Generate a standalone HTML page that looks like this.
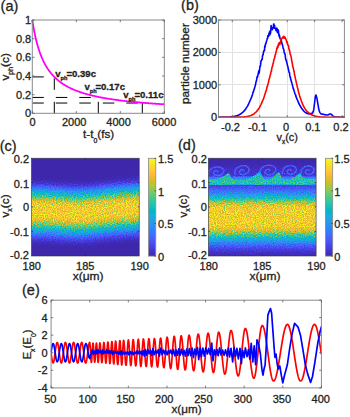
<!DOCTYPE html><html><head><meta charset="utf-8"><style>html,body{margin:0;padding:0;background:#fff;overflow:hidden}svg{display:block;font-family:"Liberation Sans",sans-serif}</style></head><body><svg width="350" height="417" viewBox="0 0 350 417" font-family="Liberation Sans, sans-serif" fill="#231f20"><style>text{stroke:#231f20;stroke-width:0.3px}</style><defs><linearGradient id="gc" gradientUnits="userSpaceOnUse" x1="0" y1="-60" x2="0" y2="60"><stop offset="0.0000" stop-color="#000000"/><stop offset="0.2167" stop-color="#000000"/><stop offset="0.2250" stop-color="#010600"/><stop offset="0.2333" stop-color="#020800"/><stop offset="0.2417" stop-color="#030a00"/><stop offset="0.2500" stop-color="#060f00"/><stop offset="0.2583" stop-color="#091300"/><stop offset="0.2667" stop-color="#0d1700"/><stop offset="0.2750" stop-color="#131c00"/><stop offset="0.2833" stop-color="#1a2000"/><stop offset="0.2917" stop-color="#242600"/><stop offset="0.3000" stop-color="#2e2c00"/><stop offset="0.3083" stop-color="#393100"/><stop offset="0.3167" stop-color="#453600"/><stop offset="0.3250" stop-color="#523a00"/><stop offset="0.3333" stop-color="#5c3e00"/><stop offset="0.3417" stop-color="#664100"/><stop offset="0.3500" stop-color="#704400"/><stop offset="0.3583" stop-color="#7a4700"/><stop offset="0.3667" stop-color="#854a00"/><stop offset="0.3750" stop-color="#8f4d00"/><stop offset="0.3833" stop-color="#995000"/><stop offset="0.3917" stop-color="#a35200"/><stop offset="0.4000" stop-color="#ad5500"/><stop offset="0.4083" stop-color="#b85700"/><stop offset="0.4167" stop-color="#c25900"/><stop offset="0.4250" stop-color="#cc5c00"/><stop offset="0.4333" stop-color="#d05d00"/><stop offset="0.4417" stop-color="#d45e00"/><stop offset="0.4500" stop-color="#d95f00"/><stop offset="0.4583" stop-color="#d95f00"/><stop offset="0.4667" stop-color="#da5f00"/><stop offset="0.4833" stop-color="#da5f00"/><stop offset="0.4917" stop-color="#db5f00"/><stop offset="0.5083" stop-color="#db5f00"/><stop offset="0.5167" stop-color="#da5f00"/><stop offset="0.5333" stop-color="#da5f00"/><stop offset="0.5417" stop-color="#d95f00"/><stop offset="0.5500" stop-color="#d95f00"/><stop offset="0.5583" stop-color="#d45e00"/><stop offset="0.5667" stop-color="#d05d00"/><stop offset="0.5750" stop-color="#cc5c00"/><stop offset="0.5833" stop-color="#c45a00"/><stop offset="0.5917" stop-color="#bc5800"/><stop offset="0.6000" stop-color="#b25600"/><stop offset="0.6083" stop-color="#a85300"/><stop offset="0.6167" stop-color="#9e5100"/><stop offset="0.6250" stop-color="#944e00"/><stop offset="0.6333" stop-color="#8a4b00"/><stop offset="0.6417" stop-color="#804900"/><stop offset="0.6500" stop-color="#754600"/><stop offset="0.6583" stop-color="#6b4300"/><stop offset="0.6667" stop-color="#613f00"/><stop offset="0.6750" stop-color="#573c00"/><stop offset="0.6833" stop-color="#4c3800"/><stop offset="0.6917" stop-color="#423400"/><stop offset="0.7000" stop-color="#383000"/><stop offset="0.7083" stop-color="#2f2c00"/><stop offset="0.7167" stop-color="#262800"/><stop offset="0.7250" stop-color="#1e2300"/><stop offset="0.7333" stop-color="#171f00"/><stop offset="0.7417" stop-color="#121b00"/><stop offset="0.7500" stop-color="#0d1700"/><stop offset="0.7583" stop-color="#091300"/><stop offset="0.7667" stop-color="#060f00"/><stop offset="0.7750" stop-color="#030a00"/><stop offset="0.7833" stop-color="#020800"/><stop offset="0.7917" stop-color="#010600"/><stop offset="0.8000" stop-color="#000000"/><stop offset="1.0000" stop-color="#000000"/></linearGradient><clipPath id="clipc"><rect x="31.5" y="158.2" width="107.7" height="97.8"/></clipPath><filter id="pnc" filterUnits="userSpaceOnUse" x="31" y="158" width="109" height="99" color-interpolation-filters="sRGB"><feTurbulence type="fractalNoise" baseFrequency="0.9" numOctaves="2" seed="3" result="t"/><feColorMatrix in="t" type="matrix" values="1 0 0 0 0 1 0 0 0 0 1 0 0 0 0 0 0 0 0 1" result="n"/><feColorMatrix in="SourceGraphic" type="matrix" values="1 0 0 0 0 1 0 0 0 0 1 0 0 0 0 0 0 0 0 1" result="a"/><feColorMatrix in="SourceGraphic" type="matrix" values="0 1 0 0 0 0 1 0 0 0 0 1 0 0 0 0 0 0 0 1" result="m"/><feComposite in="m" in2="n" operator="arithmetic" k1="2.0000" k2="-1.0000" k3="0" k4="0.5" result="na"/><feComposite in="a" in2="na" operator="arithmetic" k1="0" k2="1" k3="1" k4="-0.5" result="v"/><feComponentTransfer in="v" result="c"><feFuncR type="table" tableValues="0.2422 0.2504 0.2578 0.2647 0.2706 0.2751 0.2783 0.2803 0.2813 0.2810 0.2795 0.2760 0.2699 0.2602 0.2440 0.2206 0.1963 0.1834 0.1786 0.1764 0.1687 0.1540 0.1460 0.1380 0.1248 0.1113 0.0952 0.0689 0.0297 0.0036 0.0067 0.0433 0.0964 0.1408 0.1717 0.1938 0.2161 0.2470 0.2906 0.3406 0.3909 0.4456 0.5044 0.5616 0.6174 0.6720 0.7242 0.7738 0.8203 0.8634 0.9035 0.9393 0.9728 0.9956 0.9970 0.9952 0.9892 0.9786 0.9676 0.9610 0.9597 0.9628 0.9691 0.9769"/><feFuncG type="table" tableValues="0.1504 0.1650 0.1818 0.1978 0.2147 0.2342 0.2559 0.2782 0.3006 0.3228 0.3447 0.3667 0.3892 0.4123 0.4358 0.4603 0.4847 0.5074 0.5289 0.5499 0.5703 0.5902 0.6091 0.6276 0.6459 0.6635 0.6798 0.6948 0.7082 0.7203 0.7312 0.7411 0.7500 0.7584 0.7670 0.7758 0.7843 0.7918 0.7973 0.8008 0.8029 0.8024 0.7993 0.7942 0.7876 0.7793 0.7698 0.7598 0.7498 0.7406 0.7330 0.7288 0.7298 0.7434 0.7659 0.7893 0.8136 0.8386 0.8639 0.8890 0.9135 0.9373 0.9606 0.9839"/><feFuncB type="table" tableValues="0.6603 0.7076 0.7511 0.7952 0.8364 0.8710 0.8991 0.9221 0.9414 0.9579 0.9717 0.9829 0.9906 0.9952 0.9988 0.9973 0.9892 0.9798 0.9682 0.9520 0.9359 0.9218 0.9079 0.8973 0.8883 0.8763 0.8598 0.8394 0.8163 0.7917 0.7660 0.7394 0.7120 0.6842 0.6554 0.6251 0.5923 0.5567 0.5188 0.4789 0.4354 0.3909 0.3480 0.3045 0.2612 0.2227 0.1910 0.1646 0.1535 0.1596 0.1774 0.2100 0.2394 0.2371 0.2199 0.2028 0.1885 0.1766 0.1643 0.1537 0.1423 0.1265 0.1064 0.0805"/></feComponentTransfer><feGaussianBlur in="c" stdDeviation="0.35"/></filter><linearGradient id="gcb" x1="0" y1="0" x2="0" y2="1"><stop offset="0.0000" stop-color="#f9fb15"/><stop offset="0.0156" stop-color="#f7f51b"/><stop offset="0.0312" stop-color="#f6ef20"/><stop offset="0.0469" stop-color="#f5e924"/><stop offset="0.0625" stop-color="#f5e327"/><stop offset="0.0781" stop-color="#f7dd2a"/><stop offset="0.0938" stop-color="#f9d62d"/><stop offset="0.1094" stop-color="#fcd030"/><stop offset="0.1250" stop-color="#feca33"/><stop offset="0.1406" stop-color="#fec437"/><stop offset="0.1562" stop-color="#febe3c"/><stop offset="0.1719" stop-color="#f9bb3d"/><stop offset="0.1875" stop-color="#f1ba37"/><stop offset="0.2031" stop-color="#e8bb2f"/><stop offset="0.2188" stop-color="#debc2a"/><stop offset="0.2344" stop-color="#d4bf28"/><stop offset="0.2500" stop-color="#c8c129"/><stop offset="0.2656" stop-color="#bcc42f"/><stop offset="0.2812" stop-color="#afc637"/><stop offset="0.2969" stop-color="#a2c840"/><stop offset="0.3125" stop-color="#94ca4a"/><stop offset="0.3281" stop-color="#85cb55"/><stop offset="0.3438" stop-color="#77cc60"/><stop offset="0.3594" stop-color="#69cd6b"/><stop offset="0.3750" stop-color="#5ccc76"/><stop offset="0.3906" stop-color="#4fcc80"/><stop offset="0.4062" stop-color="#44ca8a"/><stop offset="0.4219" stop-color="#3ac993"/><stop offset="0.4375" stop-color="#34c79c"/><stop offset="0.4531" stop-color="#2ec5a4"/><stop offset="0.4688" stop-color="#28c2ab"/><stop offset="0.4844" stop-color="#1ec0b2"/><stop offset="0.5000" stop-color="#12beb9"/><stop offset="0.5156" stop-color="#07bcc0"/><stop offset="0.5312" stop-color="#01b9c6"/><stop offset="0.5469" stop-color="#04b6cd"/><stop offset="0.5625" stop-color="#0cb3d3"/><stop offset="0.5781" stop-color="#14b0d8"/><stop offset="0.5938" stop-color="#1aacdd"/><stop offset="0.6094" stop-color="#1ea7e1"/><stop offset="0.6250" stop-color="#21a3e3"/><stop offset="0.6406" stop-color="#249ee6"/><stop offset="0.6562" stop-color="#269ae9"/><stop offset="0.6719" stop-color="#2895ec"/><stop offset="0.6875" stop-color="#2c90f0"/><stop offset="0.7031" stop-color="#2d8bf4"/><stop offset="0.7188" stop-color="#2e85f8"/><stop offset="0.7344" stop-color="#3080fa"/><stop offset="0.7500" stop-color="#347afd"/><stop offset="0.7656" stop-color="#3a74fe"/><stop offset="0.7812" stop-color="#3f6efe"/><stop offset="0.7969" stop-color="#4368fe"/><stop offset="0.8125" stop-color="#4562fc"/><stop offset="0.8281" stop-color="#475dfa"/><stop offset="0.8438" stop-color="#4757f7"/><stop offset="0.8594" stop-color="#4852f4"/><stop offset="0.8750" stop-color="#484cef"/><stop offset="0.8906" stop-color="#4746ea"/><stop offset="0.9062" stop-color="#4741e5"/><stop offset="0.9219" stop-color="#463bdd"/><stop offset="0.9375" stop-color="#4536d5"/><stop offset="0.9531" stop-color="#4332ca"/><stop offset="0.9688" stop-color="#422ebf"/><stop offset="0.9844" stop-color="#402ab4"/><stop offset="1.0000" stop-color="#3e26a8"/></linearGradient><linearGradient id="gd" gradientUnits="userSpaceOnUse" x1="0" y1="158.2" x2="0" y2="256.2"><stop offset="0.0000" stop-color="#000200"/><stop offset="0.0102" stop-color="#000400"/><stop offset="0.0204" stop-color="#010600"/><stop offset="0.0306" stop-color="#010700"/><stop offset="0.0408" stop-color="#020800"/><stop offset="0.0510" stop-color="#020900"/><stop offset="0.0612" stop-color="#020a00"/><stop offset="0.0714" stop-color="#030b00"/><stop offset="0.0816" stop-color="#040d00"/><stop offset="0.0918" stop-color="#061000"/><stop offset="0.1020" stop-color="#071200"/><stop offset="0.1122" stop-color="#091300"/><stop offset="0.1224" stop-color="#0a1500"/><stop offset="0.1327" stop-color="#0b1600"/><stop offset="0.1429" stop-color="#0c1600"/><stop offset="0.1531" stop-color="#0d1700"/><stop offset="0.1633" stop-color="#0e1800"/><stop offset="0.1735" stop-color="#0f1900"/><stop offset="0.1837" stop-color="#171f00"/><stop offset="0.1939" stop-color="#403400"/><stop offset="0.2041" stop-color="#4c3800"/><stop offset="0.2143" stop-color="#4c3800"/><stop offset="0.2245" stop-color="#4c3800"/><stop offset="0.2347" stop-color="#4c3800"/><stop offset="0.2449" stop-color="#4c3800"/><stop offset="0.2551" stop-color="#4c3800"/><stop offset="0.2653" stop-color="#423400"/><stop offset="0.2755" stop-color="#1a2100"/><stop offset="0.2857" stop-color="#1e2300"/><stop offset="0.2959" stop-color="#212500"/><stop offset="0.3061" stop-color="#252700"/><stop offset="0.3163" stop-color="#2c2b00"/><stop offset="0.3265" stop-color="#332e00"/><stop offset="0.3367" stop-color="#3a3100"/><stop offset="0.3469" stop-color="#423400"/><stop offset="0.3571" stop-color="#4b3800"/><stop offset="0.3673" stop-color="#543b00"/><stop offset="0.3776" stop-color="#5f3f00"/><stop offset="0.3878" stop-color="#6a4200"/><stop offset="0.3980" stop-color="#754600"/><stop offset="0.4082" stop-color="#804900"/><stop offset="0.4184" stop-color="#8b4c00"/><stop offset="0.4286" stop-color="#964f00"/><stop offset="0.4388" stop-color="#a35200"/><stop offset="0.4490" stop-color="#af5500"/><stop offset="0.4592" stop-color="#ba5800"/><stop offset="0.4694" stop-color="#c45a00"/><stop offset="0.4796" stop-color="#cd5c00"/><stop offset="0.4898" stop-color="#d15d00"/><stop offset="0.5000" stop-color="#d65e00"/><stop offset="0.5102" stop-color="#da5f00"/><stop offset="0.5204" stop-color="#db5f00"/><stop offset="0.5306" stop-color="#db5f00"/><stop offset="0.5408" stop-color="#db5f00"/><stop offset="0.5510" stop-color="#db5f00"/><stop offset="0.5612" stop-color="#db5f00"/><stop offset="0.5714" stop-color="#db5f00"/><stop offset="0.5816" stop-color="#db5f00"/><stop offset="0.5918" stop-color="#db5f00"/><stop offset="0.6020" stop-color="#db5f00"/><stop offset="0.6122" stop-color="#db5f00"/><stop offset="0.6224" stop-color="#db5f00"/><stop offset="0.6327" stop-color="#db5f00"/><stop offset="0.6429" stop-color="#db5f00"/><stop offset="0.6531" stop-color="#db5f00"/><stop offset="0.6633" stop-color="#db5f00"/><stop offset="0.6735" stop-color="#db5f00"/><stop offset="0.6837" stop-color="#db5f00"/><stop offset="0.6939" stop-color="#da5f00"/><stop offset="0.7041" stop-color="#d55e00"/><stop offset="0.7143" stop-color="#d05d00"/><stop offset="0.7245" stop-color="#cb5c00"/><stop offset="0.7347" stop-color="#c55a00"/><stop offset="0.7449" stop-color="#bb5800"/><stop offset="0.7551" stop-color="#b05500"/><stop offset="0.7653" stop-color="#a65300"/><stop offset="0.7755" stop-color="#9c5000"/><stop offset="0.7857" stop-color="#924e00"/><stop offset="0.7959" stop-color="#884b00"/><stop offset="0.8061" stop-color="#7d4800"/><stop offset="0.8163" stop-color="#734500"/><stop offset="0.8265" stop-color="#694200"/><stop offset="0.8367" stop-color="#5f3f00"/><stop offset="0.8469" stop-color="#553b00"/><stop offset="0.8571" stop-color="#4b3800"/><stop offset="0.8673" stop-color="#423400"/><stop offset="0.8776" stop-color="#393100"/><stop offset="0.8878" stop-color="#312d00"/><stop offset="0.8980" stop-color="#292900"/><stop offset="0.9082" stop-color="#232600"/><stop offset="0.9184" stop-color="#1c2200"/><stop offset="0.9286" stop-color="#161e00"/><stop offset="0.9388" stop-color="#131c00"/><stop offset="0.9490" stop-color="#0f1900"/><stop offset="0.9592" stop-color="#0b1600"/><stop offset="0.9694" stop-color="#091300"/><stop offset="0.9796" stop-color="#071100"/><stop offset="0.9898" stop-color="#050f00"/><stop offset="1.0000" stop-color="#040d00"/></linearGradient><clipPath id="clipd"><rect x="208.4" y="158.2" width="107.7" height="97.8"/></clipPath><filter id="pnd" filterUnits="userSpaceOnUse" x="208" y="158" width="109" height="99" color-interpolation-filters="sRGB"><feTurbulence type="fractalNoise" baseFrequency="0.9" numOctaves="2" seed="8" result="t"/><feColorMatrix in="t" type="matrix" values="1 0 0 0 0 1 0 0 0 0 1 0 0 0 0 0 0 0 0 1" result="n"/><feColorMatrix in="SourceGraphic" type="matrix" values="1 0 0 0 0 1 0 0 0 0 1 0 0 0 0 0 0 0 0 1" result="a"/><feColorMatrix in="SourceGraphic" type="matrix" values="0 1 0 0 0 0 1 0 0 0 0 1 0 0 0 0 0 0 0 1" result="m"/><feComposite in="m" in2="n" operator="arithmetic" k1="2.0000" k2="-1.0000" k3="0" k4="0.5" result="na"/><feComposite in="a" in2="na" operator="arithmetic" k1="0" k2="1" k3="1" k4="-0.5" result="v"/><feComponentTransfer in="v" result="c"><feFuncR type="table" tableValues="0.2422 0.2504 0.2578 0.2647 0.2706 0.2751 0.2783 0.2803 0.2813 0.2810 0.2795 0.2760 0.2699 0.2602 0.2440 0.2206 0.1963 0.1834 0.1786 0.1764 0.1687 0.1540 0.1460 0.1380 0.1248 0.1113 0.0952 0.0689 0.0297 0.0036 0.0067 0.0433 0.0964 0.1408 0.1717 0.1938 0.2161 0.2470 0.2906 0.3406 0.3909 0.4456 0.5044 0.5616 0.6174 0.6720 0.7242 0.7738 0.8203 0.8634 0.9035 0.9393 0.9728 0.9956 0.9970 0.9952 0.9892 0.9786 0.9676 0.9610 0.9597 0.9628 0.9691 0.9769"/><feFuncG type="table" tableValues="0.1504 0.1650 0.1818 0.1978 0.2147 0.2342 0.2559 0.2782 0.3006 0.3228 0.3447 0.3667 0.3892 0.4123 0.4358 0.4603 0.4847 0.5074 0.5289 0.5499 0.5703 0.5902 0.6091 0.6276 0.6459 0.6635 0.6798 0.6948 0.7082 0.7203 0.7312 0.7411 0.7500 0.7584 0.7670 0.7758 0.7843 0.7918 0.7973 0.8008 0.8029 0.8024 0.7993 0.7942 0.7876 0.7793 0.7698 0.7598 0.7498 0.7406 0.7330 0.7288 0.7298 0.7434 0.7659 0.7893 0.8136 0.8386 0.8639 0.8890 0.9135 0.9373 0.9606 0.9839"/><feFuncB type="table" tableValues="0.6603 0.7076 0.7511 0.7952 0.8364 0.8710 0.8991 0.9221 0.9414 0.9579 0.9717 0.9829 0.9906 0.9952 0.9988 0.9973 0.9892 0.9798 0.9682 0.9520 0.9359 0.9218 0.9079 0.8973 0.8883 0.8763 0.8598 0.8394 0.8163 0.7917 0.7660 0.7394 0.7120 0.6842 0.6554 0.6251 0.5923 0.5567 0.5188 0.4789 0.4354 0.3909 0.3480 0.3045 0.2612 0.2227 0.1910 0.1646 0.1535 0.1596 0.1774 0.2100 0.2394 0.2371 0.2199 0.2028 0.1885 0.1766 0.1643 0.1537 0.1423 0.1265 0.1064 0.0805"/></feComponentTransfer><feGaussianBlur in="c" stdDeviation="0.35"/></filter><clipPath id="clipe"><rect x="50.6" y="292.2" width="271.3" height="95.7"/></clipPath></defs><rect width="350" height="417" fill="#fff"/><line x1="32.3" y1="76.91" x2="54.3" y2="76.91" stroke="#000" stroke-width="1" stroke-dasharray="11.5 12"/>
<line x1="54.3" y1="113.3" x2="54.3" y2="76.91" stroke="#000" stroke-width="1" stroke-dasharray="11.5 12"/>
<line x1="32.3" y1="97.44" x2="98.3" y2="97.44" stroke="#000" stroke-width="1" stroke-dasharray="11.5 12"/>
<line x1="98.3" y1="113.3" x2="98.3" y2="97.44" stroke="#000" stroke-width="1" stroke-dasharray="11.5 12"/>
<line x1="32.3" y1="103.04" x2="142.3" y2="103.04" stroke="#000" stroke-width="1" stroke-dasharray="11.5 12"/>
<line x1="142.3" y1="113.3" x2="142.3" y2="103.04" stroke="#000" stroke-width="1" stroke-dasharray="11.5 12"/>
<polyline points="32.3,20 32.85,23.51 33.4,26.76 33.95,29.79 34.5,32.61 35.05,35.25 35.6,37.72 36.15,40.03 36.7,42.21 37.25,44.27 37.8,46.21 38.35,48.04 38.9,49.78 39.45,51.42 40,52.98 40.55,54.47 41.1,55.88 41.65,57.23 42.2,58.52 42.75,59.75 43.3,60.92 43.85,62.05 44.4,63.12 44.95,64.15 45.5,65.15 46.05,66.1 46.6,67.01 47.15,67.89 47.7,68.74 48.25,69.55 48.8,70.34 49.35,71.1 49.9,71.83 50.45,72.54 51,73.22 51.55,73.89 52.1,74.53 52.65,75.15 53.2,75.75 53.75,76.33 54.3,76.89 54.85,77.44 55.4,77.97 55.95,78.48 56.5,78.98 57.05,79.47 57.6,79.94 58.15,80.4 58.7,80.85 59.25,81.28 59.8,81.71 60.35,82.12 60.9,82.52 61.45,82.91 62,83.29 62.55,83.67 63.1,84.03 63.65,84.38 64.2,84.73 64.75,85.07 65.3,85.4 65.85,85.72 66.4,86.03 66.95,86.34 67.5,86.64 68.05,86.94 68.6,87.22 69.15,87.51 69.7,87.78 70.25,88.05 70.8,88.32 71.35,88.57 71.9,88.83 72.45,89.08 73,89.32 73.55,89.56 74.1,89.79 74.65,90.02 75.2,90.25 75.75,90.47 76.3,90.68 76.85,90.89 77.4,91.1 77.95,91.31 78.5,91.51 79.05,91.7 79.6,91.9 80.15,92.09 80.7,92.27 81.25,92.46 81.8,92.64 82.35,92.82 82.9,92.99 83.45,93.16 84,93.33 84.55,93.5 85.1,93.66 85.65,93.82 86.2,93.98 86.75,94.13 87.3,94.28 87.85,94.43 88.4,94.58 88.95,94.73 89.5,94.87 90.05,95.01 90.6,95.15 91.15,95.29 91.7,95.42 92.25,95.55 92.8,95.69 93.35,95.81 93.9,95.94 94.45,96.07 95,96.19 95.55,96.31 96.1,96.43 96.65,96.55 97.2,96.67 97.75,96.78 98.3,96.9 98.85,97.01 99.4,97.12 99.95,97.23 100.5,97.33 101.05,97.44 101.6,97.54 102.15,97.65 102.7,97.75 103.25,97.85 103.8,97.95 104.35,98.05 104.9,98.14 105.45,98.24 106,98.33 106.55,98.43 107.1,98.52 107.65,98.61 108.2,98.7 108.75,98.79 109.3,98.88 109.85,98.96 110.4,99.05 110.95,99.13 111.5,99.22 112.05,99.3 112.6,99.38 113.15,99.46 113.7,99.54 114.25,99.62 114.8,99.7 115.35,99.78 115.9,99.85 116.45,99.93 117,100 117.55,100.07 118.1,100.15 118.65,100.22 119.2,100.29 119.75,100.36 120.3,100.43 120.85,100.5 121.4,100.57 121.95,100.64 122.5,100.7 123.05,100.77 123.6,100.83 124.15,100.9 124.7,100.96 125.25,101.03 125.8,101.09 126.35,101.15 126.9,101.21 127.45,101.27 128,101.33 128.55,101.39 129.1,101.45 129.65,101.51 130.2,101.57 130.75,101.63 131.3,101.68 131.85,101.74 132.4,101.79 132.95,101.85 133.5,101.9 134.05,101.96 134.6,102.01 135.15,102.07 135.7,102.12 136.25,102.17 136.8,102.22 137.35,102.27 137.9,102.32 138.45,102.37 139,102.42 139.55,102.47 140.1,102.52 140.65,102.57 141.2,102.62 141.75,102.67 142.3,102.71 142.85,102.76 143.4,102.81 143.95,102.85 144.5,102.9 145.05,102.94 145.6,102.99 146.15,103.03 146.7,103.08 147.25,103.12 147.8,103.16 148.35,103.2 148.9,103.25 149.45,103.29 150,103.33 150.55,103.37 151.1,103.41 151.65,103.45 152.2,103.5 152.75,103.54 153.3,103.57 153.85,103.61 154.4,103.65 154.95,103.69 155.5,103.73 156.05,103.77 156.6,103.81 157.15,103.84 157.7,103.88 158.25,103.92 158.8,103.96 159.35,103.99 159.9,104.03 160.45,104.06 161,104.1 161.55,104.13 162.1,104.17 162.65,104.2 163.2,104.24 163.75,104.27 164.3,104.31" fill="none" stroke="#ff00ff" stroke-width="1.8" stroke-linejoin="round"/>
<rect x="32.3" y="20" width="132" height="93.3" fill="none" stroke="#8a8a8a" stroke-width="1"/>
<path d="M32.3 113.3h2.2M164.3 113.3h-2.2" stroke="#5a5a5a" stroke-width="0.8"/>
<path d="M32.3 94.64h2.2M164.3 94.64h-2.2" stroke="#5a5a5a" stroke-width="0.8"/>
<path d="M32.3 75.98h2.2M164.3 75.98h-2.2" stroke="#5a5a5a" stroke-width="0.8"/>
<path d="M32.3 57.32h2.2M164.3 57.32h-2.2" stroke="#5a5a5a" stroke-width="0.8"/>
<path d="M32.3 38.66h2.2M164.3 38.66h-2.2" stroke="#5a5a5a" stroke-width="0.8"/>
<path d="M32.3 20h2.2M164.3 20h-2.2" stroke="#5a5a5a" stroke-width="0.8"/>
<path d="M32.3 113.3v-2.2M32.3 20v2.2" stroke="#5a5a5a" stroke-width="0.8"/>
<path d="M76.3 113.3v-2.2M76.3 20v2.2" stroke="#5a5a5a" stroke-width="0.8"/>
<path d="M120.3 113.3v-2.2M120.3 20v2.2" stroke="#5a5a5a" stroke-width="0.8"/>
<path d="M164.3 113.3v-2.2M164.3 20v2.2" stroke="#5a5a5a" stroke-width="0.8"/>
<text x="31.2" y="117.2" text-anchor="end" font-size="11">0</text>
<text x="31.2" y="98.54" text-anchor="end" font-size="11">0.2</text>
<text x="31.2" y="79.88" text-anchor="end" font-size="11">0.4</text>
<text x="31.2" y="61.22" text-anchor="end" font-size="11">0.6</text>
<text x="31.2" y="42.56" text-anchor="end" font-size="11">0.8</text>
<text x="31.2" y="23.9" text-anchor="end" font-size="11">1</text>
<text x="32.5" y="126.2" text-anchor="middle" font-size="11">0</text>
<text x="74.2" y="126.2" text-anchor="middle" font-size="11">2000</text>
<text x="118.6" y="126.2" text-anchor="middle" font-size="11">4000</text>
<text x="164.1" y="126.2" text-anchor="middle" font-size="11">6000</text>
<text x="0.6" y="10.7" text-anchor="start" font-size="14.5">(a)</text>
<text x="83.1" y="137.7" font-size="11" textLength="31" lengthAdjust="spacingAndGlyphs"><tspan>t-t</tspan><tspan font-size="6.5" dy="4.8">0</tspan><tspan dy="-4.8">(fs)</tspan></text>
<text transform="translate(9.4,80.5) rotate(-90)" font-size="11" textLength="27.3" lengthAdjust="spacingAndGlyphs"><tspan>v</tspan><tspan font-size="6.5" dy="3.4">ph</tspan><tspan dy="-3.4">(c)</tspan></text>
<text y="76.6" font-size="9.6" font-weight="bold"><tspan x="55.2">v</tspan><tspan font-size="5.6" dy="2.9">ph</tspan><tspan x="66.4" dy="-2.9">=0.39c</tspan></text>
<text y="90.3" font-size="9.6" font-weight="bold"><tspan x="84.5">v</tspan><tspan font-size="5.6" dy="2.9">ph</tspan><tspan x="95.4" dy="-2.9">=0.17c</tspan></text>
<text y="98" font-size="9.6" font-weight="bold"><tspan x="123.2">v</tspan><tspan font-size="5.6" dy="2.9">ph</tspan><tspan x="134.4" dy="-2.9">=0.11c</tspan></text>
<line x1="232.5" y1="20" x2="232.5" y2="117.2" stroke="#e2e2e2" stroke-width="1"/>
<line x1="259.5" y1="20" x2="259.5" y2="117.2" stroke="#e2e2e2" stroke-width="1"/>
<line x1="287.5" y1="20" x2="287.5" y2="117.2" stroke="#e2e2e2" stroke-width="1"/>
<line x1="314.5" y1="20" x2="314.5" y2="117.2" stroke="#e2e2e2" stroke-width="1"/>
<line x1="218.5" y1="52.5" x2="344.4" y2="52.5" stroke="#e2e2e2" stroke-width="1"/>
<line x1="218.5" y1="84.5" x2="344.4" y2="84.5" stroke="#e2e2e2" stroke-width="1"/>
<polyline points="218.52,117.19 218.84,117.19 219.16,117.19 219.48,117.19 219.79,117.19 220.11,117.18 220.43,117.18 220.74,117.18 221.06,117.18 221.38,117.18 221.69,117.17 222.01,117.17 222.33,117.17 222.64,117.17 222.96,117.16 223.28,117.16 223.59,117.15 223.91,117.15 224.23,117.15 224.54,117.14 224.86,117.13 225.18,117.13 225.49,117.12 225.81,117.11 226.13,117.1 226.44,117.09 226.76,117.09 227.08,117.08 227.39,117.06 227.71,117.05 228.03,117.04 228.34,117.02 228.66,117.01 228.98,116.98 229.29,116.97 229.61,116.94 229.93,116.93 230.24,116.9 230.56,116.88 230.88,116.85 231.19,116.82 231.51,116.79 231.83,116.75 232.14,116.72 232.46,116.68 232.78,116.64 233.09,116.6 233.41,116.55 233.73,116.49 234.04,116.43 234.36,116.36 234.68,116.3 234.99,116.23 235.31,116.16 235.63,116.12 235.94,116 236.26,115.93 236.58,115.81 236.89,115.72 237.21,115.62 237.53,115.51 237.84,115.38 238.16,115.29 238.48,115.15 238.79,114.93 239.11,114.8 239.43,114.66 239.74,114.49 240.06,114.31 240.38,113.98 240.69,113.88 241.01,113.69 241.33,113.49 241.64,113.34 241.96,112.97 242.28,112.63 242.59,112.38 242.91,112.13 243.23,111.88 243.54,111.6 243.86,111.18 244.18,110.87 244.49,110.56 244.81,109.93 245.13,109.77 245.44,109.31 245.76,109.07 246.08,108.18 246.39,107.91 246.71,107.4 247.03,106.84 247.34,106.45 247.66,105.87 247.98,105.16 248.29,104.73 248.61,103.92 248.93,103.12 249.24,102.52 249.56,101.7 249.88,101.04 250.19,100.15 250.51,99.69 250.83,98.87 251.14,98.41 251.46,97.36 251.78,96.65 252.09,95.6 252.41,94.96 252.73,93.65 253.04,92 253.36,92.05 253.68,90.62 254,89.57 254.31,89 254.63,87.78 254.95,86.78 255.26,85.29 255.58,84.59 255.9,82.08 256.21,81.63 256.53,80.3 256.85,78.6 257.16,76.62 257.48,77.29 257.8,75.43 258.11,74.58 258.43,73 258.75,70.8 259.06,73.32 259.38,71.6 259.7,68.54 260.01,66.21 260.33,66.1 260.65,64.38 260.96,61.37 261.28,60.59 261.6,60.27 261.91,59.23 262.23,59.39 262.55,55.53 262.86,54.72 263.18,54.8 263.5,51.64 263.81,51.48 264.13,50.19 264.45,50.64 264.76,46.14 265.08,47.08 265.4,44.54 265.71,43.48 266.03,43.38 266.35,41.64 266.66,40.8 266.98,39.78 267.3,38.21 267.61,38.32 267.93,35.68 268.25,35.53 268.56,36.34 268.88,33.48 269.2,33.77 269.51,31.92 269.83,34.87 270.15,30.77 270.46,33.54 270.78,30.68 271.1,25.48 271.41,28.34 271.73,27.44 272.05,29.39 272.36,29.66 272.68,28.07 273,27.26 273.31,27.79 273.63,23.94 273.95,24.18 274.26,28.14 274.58,25.61 274.9,27.84 275.21,28.53 275.53,28.63 275.85,29.84 276.16,30.69 276.48,29.14 276.8,28.05 277.11,29.65 277.43,32.65 277.75,29.49 278.06,31.76 278.38,30.35 278.7,33.73 279.01,36.08 279.33,34.86 279.65,36.23 279.96,38.36 280.28,38.86 280.6,39.4 280.91,41.03 281.23,40.13 281.55,41.62 281.86,43.32 282.18,44.41 282.5,44.97 282.81,46.39 283.13,48.37 283.45,48.9 283.76,49.43 284.08,51.39 284.4,53.24 284.71,53.37 285.03,54.2 285.35,56.65 285.66,59.16 285.98,60.08 286.3,59.79 286.61,62.11 286.93,63.02 287.25,64.43 287.56,65.94 287.88,66.53 288.2,68.57 288.51,69.68 288.83,71.12 289.15,72.45 289.47,72.67 289.78,75.68 290.1,76.99 290.42,77.11 290.73,79.49 291.05,80.03 291.37,81.77 291.68,82.07 292,83.66 292.32,84.52 292.63,86.21 292.95,87.08 293.27,88.95 293.58,88.88 293.9,90.08 294.22,91.23 294.53,92.21 294.85,93.31 295.17,94.16 295.48,94.53 295.8,96.12 296.12,96.95 296.43,97.51 296.75,98.44 297.07,99.44 297.38,99.72 297.7,100.48 298.02,101.62 298.33,101.92 298.65,103.19 298.97,103.34 299.28,104.5 299.6,104.79 299.92,105.47 300.23,106.06 300.55,106.48 300.87,107.21 301.18,107.68 301.5,108.21 301.82,108.38 302.13,109.05 302.45,109.38 302.77,109.84 303.08,110.11 303.4,110.66 303.72,110.99 304.03,111.3 304.35,111.55 304.67,111.9 304.98,112.09 305.3,112.34 305.62,112.55 305.93,112.79 306.25,112.94 306.57,113.2 306.88,113.36 307.2,113.49 307.52,113.6 307.83,113.72 308.15,113.71 308.47,113.77 308.78,113.89 309.1,113.82 309.42,113.84 309.73,113.82 310.05,113.76 310.37,113.65 310.68,113.65 311,113.68 311.32,113.5 311.63,113.47 311.95,113.23 312.27,113.16 312.58,112.84 312.9,112.35 313.22,111.61 313.53,110.4 313.85,108.7 314.17,106.2 314.48,103.88 314.8,101.02 315.12,98.49 315.43,96.44 315.75,95.31 316.07,95 316.38,96.79 316.7,97.29 317.02,98.87 317.33,100.32 317.65,102.62 317.97,104.3 318.28,106.19 318.6,108.1 318.92,109.45 319.23,110.76 319.55,111.62 319.87,112.39 320.18,112.9 320.5,113.31 320.82,113.67 321.13,113.75 321.45,113.94 321.77,113.99 322.08,114.1 322.4,114.13 322.72,114.27 323.03,114.23 323.35,114.37 323.67,114.39 323.99,114.44 324.3,114.57 324.62,114.58 324.94,114.66 325.25,114.71 325.57,114.81 325.89,114.91 326.2,114.97 326.52,115.02 326.84,115.02 327.15,115.04 327.47,114.99 327.79,114.91 328.1,114.86 328.42,114.73 328.74,114.55 329.05,114.37 329.37,114.3 329.69,114.1 330,113.97 330.32,113.92 330.64,114 330.95,114.15 331.27,114.23 331.59,114.67 331.9,114.82 332.22,115.2 332.54,115.51 332.85,115.8 333.17,116.06 333.49,116.3 333.8,116.49 334.12,116.63 334.44,116.74 334.75,116.84 335.07,116.9 335.39,116.96 335.7,116.99 336.02,117.02 336.34,117.05 336.65,117.07 336.97,117.09 337.29,117.1 337.6,117.12 337.92,117.13 338.24,117.14 338.55,117.14 338.87,117.15 339.19,117.16 339.5,117.16 339.82,117.17 340.14,117.17 340.45,117.18 340.77,117.18 341.09,117.18 341.4,117.19 341.72,117.19 342.04,117.19 342.35,117.19 342.67,117.19 342.99,117.19 343.3,117.2 343.62,117.2 343.94,117.2 344.25,117.2 344.57,117.2 344.89,117.2" fill="none" stroke="#0000ff" stroke-width="1.6" stroke-linejoin="round"/>
<polyline points="218.52,117.2 218.84,117.2 219.16,117.2 219.48,117.2 219.79,117.2 220.11,117.2 220.43,117.2 220.74,117.2 221.06,117.2 221.38,117.2 221.69,117.2 222.01,117.2 222.33,117.2 222.64,117.2 222.96,117.2 223.28,117.2 223.59,117.2 223.91,117.2 224.23,117.2 224.54,117.2 224.86,117.2 225.18,117.2 225.49,117.2 225.81,117.2 226.13,117.2 226.44,117.2 226.76,117.2 227.08,117.2 227.39,117.2 227.71,117.2 228.03,117.2 228.34,117.2 228.66,117.2 228.98,117.2 229.29,117.2 229.61,117.2 229.93,117.2 230.24,117.2 230.56,117.2 230.88,117.2 231.19,117.2 231.51,117.2 231.83,117.19 232.14,117.19 232.46,117.19 232.78,117.19 233.09,117.19 233.41,117.19 233.73,117.19 234.04,117.19 234.36,117.19 234.68,117.19 234.99,117.18 235.31,117.18 235.63,117.18 235.94,117.18 236.26,117.17 236.58,117.17 236.89,117.17 237.21,117.16 237.53,117.16 237.84,117.16 238.16,117.15 238.48,117.15 238.79,117.14 239.11,117.13 239.43,117.13 239.74,117.12 240.06,117.11 240.38,117.1 240.69,117.09 241.01,117.08 241.33,117.07 241.64,117.05 241.96,117.04 242.28,117.03 242.59,117.01 242.91,116.99 243.23,116.97 243.54,116.95 243.86,116.92 244.18,116.9 244.49,116.88 244.81,116.84 245.13,116.81 245.44,116.77 245.76,116.73 246.08,116.69 246.39,116.64 246.71,116.59 247.03,116.55 247.34,116.49 247.66,116.41 247.98,116.35 248.29,116.3 248.61,116.19 248.93,116.12 249.24,116.05 249.56,115.97 249.88,115.85 250.19,115.76 250.51,115.65 250.83,115.54 251.14,115.39 251.46,115.21 251.78,115.1 252.09,114.98 252.41,114.75 252.73,114.59 253.04,114.37 253.36,114.16 253.68,114 254,113.77 254.31,113.53 254.63,113.33 254.95,112.98 255.26,112.66 255.58,112.43 255.9,112.14 256.21,111.81 256.53,111.51 256.85,111.15 257.16,110.74 257.48,110.38 257.8,109.93 258.11,109.6 258.43,108.96 258.75,108.51 259.06,108.14 259.38,107.76 259.7,106.94 260.01,106.23 260.33,105.88 260.65,105.23 260.96,104.61 261.28,103.76 261.6,103.33 261.91,102.28 262.23,101.77 262.55,100.77 262.86,100.16 263.18,99.4 263.5,98.84 263.81,97.8 264.13,96.81 264.45,95.66 264.76,94.82 265.08,94.11 265.4,92.81 265.71,91.61 266.03,90.91 266.35,89.95 266.66,88.85 266.98,87.32 267.3,86.28 267.61,85.69 267.93,84.02 268.25,83.18 268.56,82.1 268.88,80.01 269.2,78.95 269.51,78.42 269.83,76.78 270.15,75.3 270.46,74.6 270.78,73.05 271.1,71.33 271.41,71.4 271.73,68.91 272.05,67.37 272.36,66.2 272.68,65.99 273,63.73 273.31,63.14 273.63,61.03 273.95,59.75 274.26,58.72 274.58,58.06 274.9,56.75 275.21,54.71 275.53,54.56 275.85,52.6 276.16,51.47 276.48,50.83 276.8,48.21 277.11,48.53 277.43,46.33 277.75,47.79 278.06,47 278.38,44.24 278.7,43.6 279.01,43.35 279.33,42.45 279.65,44.77 279.96,43.37 280.28,42.99 280.6,41.96 280.91,38.87 281.23,38.9 281.55,38.32 281.86,38.6 282.18,38.15 282.5,37.6 282.81,37.66 283.13,36.63 283.45,37.82 283.76,36.21 284.08,37.96 284.4,36.93 284.71,38.25 285.03,37.16 285.35,38.45 285.66,38.79 285.98,39.16 286.3,40.61 286.61,41.56 286.93,42.93 287.25,41.9 287.56,43.95 287.88,44.89 288.2,45.62 288.51,45.56 288.83,48.9 289.15,48.97 289.47,50.62 289.78,51.39 290.1,54.11 290.42,54.69 290.73,55.4 291.05,56.44 291.37,57.91 291.68,60.84 292,61.84 292.32,63.48 292.63,65.77 292.95,67.36 293.27,67.64 293.58,69.51 293.9,71.29 294.22,72.11 294.53,74.82 294.85,75.57 295.17,77.35 295.48,78.88 295.8,80.11 296.12,81.7 296.43,83.1 296.75,84.5 297.07,85.25 297.38,87.43 297.7,88.28 298.02,89.7 298.33,91.24 298.65,92.1 298.97,93.75 299.28,94.32 299.6,95.93 299.92,96.89 300.23,97.71 300.55,98.57 300.87,99.5 301.18,100.41 301.5,101.49 301.82,102.44 302.13,102.96 302.45,103.76 302.77,104.67 303.08,105.06 303.4,105.82 303.72,106.59 304.03,106.99 304.35,107.76 304.67,108.22 304.98,108.58 305.3,109.25 305.62,109.54 305.93,110.09 306.25,110.31 306.57,110.8 306.88,111.09 307.2,111.55 307.52,111.79 307.83,112.01 308.15,112.33 308.47,112.73 308.78,112.84 309.1,113.09 309.42,113.39 309.73,113.53 310.05,113.85 310.37,114.01 310.68,114.16 311,114.33 311.32,114.51 311.63,114.75 311.95,114.92 312.27,115.01 312.58,115.2 312.9,115.3 313.22,115.45 313.53,115.52 313.85,115.65 314.17,115.76 314.48,115.87 314.8,115.97 315.12,116.07 315.43,116.15 315.75,116.23 316.07,116.31 316.38,116.39 316.7,116.44 317.02,116.51 317.33,116.57 317.65,116.62 317.97,116.69 318.28,116.74 318.6,116.77 318.92,116.82 319.23,116.85 319.55,116.89 319.87,116.92 320.18,116.95 320.5,116.98 320.82,117 321.13,117.02 321.45,117.05 321.77,117.06 322.08,117.08 322.4,117.09 322.72,117.11 323.03,117.12 323.35,117.13 323.67,117.14 323.99,117.14 324.3,117.15 324.62,117.16 324.94,117.16 325.25,117.17 325.57,117.17 325.89,117.18 326.2,117.18 326.52,117.18 326.84,117.19 327.15,117.19 327.47,117.19 327.79,117.19 328.1,117.19 328.42,117.19 328.74,117.19 329.05,117.2 329.37,117.2 329.69,117.2 330,117.2 330.32,117.2 330.64,117.2 330.95,117.2 331.27,117.2 331.59,117.2 331.9,117.2 332.22,117.2 332.54,117.2 332.85,117.2 333.17,117.2 333.49,117.2 333.8,117.2 334.12,117.2 334.44,117.2 334.75,117.2 335.07,117.2 335.39,117.2 335.7,117.2 336.02,117.2 336.34,117.2 336.65,117.2 336.97,117.2 337.29,117.2 337.6,117.2 337.92,117.2 338.24,117.2 338.55,117.2 338.87,117.2 339.19,117.2 339.5,117.2 339.82,117.2 340.14,117.2 340.45,117.2 340.77,117.2 341.09,117.2 341.4,117.2 341.72,117.2 342.04,117.2 342.35,117.2 342.67,117.2 342.99,117.2 343.3,117.2 343.62,117.2 343.94,117.2 344.25,117.2 344.57,117.2 344.89,117.2" fill="none" stroke="#ff0000" stroke-width="1.6" stroke-linejoin="round"/>
<rect x="218.5" y="20" width="125.9" height="97.2" fill="none" stroke="#8a8a8a" stroke-width="1"/>
<path d="M218.5 117.2h2.2M344.4 117.2h-2.2" stroke="#5a5a5a" stroke-width="0.8"/>
<path d="M218.5 84.8h2.2M344.4 84.8h-2.2" stroke="#5a5a5a" stroke-width="0.8"/>
<path d="M218.5 52.4h2.2M344.4 52.4h-2.2" stroke="#5a5a5a" stroke-width="0.8"/>
<path d="M218.5 20h2.2M344.4 20h-2.2" stroke="#5a5a5a" stroke-width="0.8"/>
<path d="M232.26 117.2v-2.2M232.26 20v2.2" stroke="#5a5a5a" stroke-width="0.8"/>
<path d="M259.73 117.2v-2.2M259.73 20v2.2" stroke="#5a5a5a" stroke-width="0.8"/>
<path d="M287.2 117.2v-2.2M287.2 20v2.2" stroke="#5a5a5a" stroke-width="0.8"/>
<path d="M314.67 117.2v-2.2M314.67 20v2.2" stroke="#5a5a5a" stroke-width="0.8"/>
<path d="M342.14 117.2v-2.2M342.14 20v2.2" stroke="#5a5a5a" stroke-width="0.8"/>
<text x="217.2" y="121.1" text-anchor="end" font-size="11">0</text>
<text x="217.2" y="88.7" text-anchor="end" font-size="11">1000</text>
<text x="217.2" y="56.3" text-anchor="end" font-size="11">2000</text>
<text x="217.2" y="23.9" text-anchor="end" font-size="11">3000</text>
<text x="230.5" y="130.8" text-anchor="middle" font-size="11">-0.2</text>
<text x="257.5" y="130.8" text-anchor="middle" font-size="11">-0.1</text>
<text x="286" y="130.8" text-anchor="middle" font-size="11">0</text>
<text x="312.8" y="130.8" text-anchor="middle" font-size="11">0.1</text>
<text x="341" y="130.8" text-anchor="middle" font-size="11">0.2</text>
<text x="181.1" y="10.3" text-anchor="start" font-size="14.5">(b)</text>
<text x="276.6" y="140.5" font-size="11" textLength="21.3" lengthAdjust="spacingAndGlyphs"><tspan>v</tspan><tspan font-size="6.5" dy="3.4">x</tspan><tspan dy="-3.4">(c)</tspan></text>
<text transform="translate(189.4,104) rotate(-90)" font-size="11" textLength="80.8" lengthAdjust="spacingAndGlyphs"><tspan>particle number</tspan></text>
<g clip-path="url(#clipc)">
<g filter="url(#pnc)">
<rect x="31.5" y="158.2" width="107.7" height="97.8" fill="#000"/>
<rect x="31" y="-60" width="1" height="120" fill="url(#gc)" transform="translate(0,210.81)" shape-rendering="crispEdges"/>
<rect x="32" y="-60" width="1" height="120" fill="url(#gc)" transform="translate(0,210.82)" shape-rendering="crispEdges"/>
<rect x="33" y="-60" width="1" height="120" fill="url(#gc)" transform="translate(0,210.82)" shape-rendering="crispEdges"/>
<rect x="34" y="-60" width="1" height="120" fill="url(#gc)" transform="translate(0,210.83)" shape-rendering="crispEdges"/>
<rect x="35" y="-60" width="1" height="120" fill="url(#gc)" transform="translate(0,210.83)" shape-rendering="crispEdges"/>
<rect x="36" y="-60" width="1" height="120" fill="url(#gc)" transform="translate(0,210.83)" shape-rendering="crispEdges"/>
<rect x="37" y="-60" width="1" height="120" fill="url(#gc)" transform="translate(0,210.84)" shape-rendering="crispEdges"/>
<rect x="38" y="-60" width="1" height="120" fill="url(#gc)" transform="translate(0,210.85)" shape-rendering="crispEdges"/>
<rect x="39" y="-60" width="1" height="120" fill="url(#gc)" transform="translate(0,210.85)" shape-rendering="crispEdges"/>
<rect x="40" y="-60" width="1" height="120" fill="url(#gc)" transform="translate(0,210.87)" shape-rendering="crispEdges"/>
<rect x="41" y="-60" width="1" height="120" fill="url(#gc)" transform="translate(0,210.88)" shape-rendering="crispEdges"/>
<rect x="42" y="-60" width="1" height="120" fill="url(#gc)" transform="translate(0,210.9)" shape-rendering="crispEdges"/>
<rect x="43" y="-60" width="1" height="120" fill="url(#gc)" transform="translate(0,210.93)" shape-rendering="crispEdges"/>
<rect x="44" y="-60" width="1" height="120" fill="url(#gc)" transform="translate(0,210.95)" shape-rendering="crispEdges"/>
<rect x="45" y="-60" width="1" height="120" fill="url(#gc)" transform="translate(0,210.99)" shape-rendering="crispEdges"/>
<rect x="46" y="-60" width="1" height="120" fill="url(#gc)" transform="translate(0,211.02)" shape-rendering="crispEdges"/>
<rect x="47" y="-60" width="1" height="120" fill="url(#gc)" transform="translate(0,211.06)" shape-rendering="crispEdges"/>
<rect x="48" y="-60" width="1" height="120" fill="url(#gc)" transform="translate(0,211.11)" shape-rendering="crispEdges"/>
<rect x="49" y="-60" width="1" height="120" fill="url(#gc)" transform="translate(0,211.15)" shape-rendering="crispEdges"/>
<rect x="50" y="-60" width="1" height="120" fill="url(#gc)" transform="translate(0,211.21)" shape-rendering="crispEdges"/>
<rect x="51" y="-60" width="1" height="120" fill="url(#gc)" transform="translate(0,211.26)" shape-rendering="crispEdges"/>
<rect x="52" y="-60" width="1" height="120" fill="url(#gc)" transform="translate(0,211.32)" shape-rendering="crispEdges"/>
<rect x="53" y="-60" width="1" height="120" fill="url(#gc)" transform="translate(0,211.38)" shape-rendering="crispEdges"/>
<rect x="54" y="-60" width="1" height="120" fill="url(#gc)" transform="translate(0,211.45)" shape-rendering="crispEdges"/>
<rect x="55" y="-60" width="1" height="120" fill="url(#gc)" transform="translate(0,211.52)" shape-rendering="crispEdges"/>
<rect x="56" y="-60" width="1" height="120" fill="url(#gc)" transform="translate(0,211.59)" shape-rendering="crispEdges"/>
<rect x="57" y="-60" width="1" height="120" fill="url(#gc)" transform="translate(0,211.66)" shape-rendering="crispEdges"/>
<rect x="58" y="-60" width="1" height="120" fill="url(#gc)" transform="translate(0,211.73)" shape-rendering="crispEdges"/>
<rect x="59" y="-60" width="1" height="120" fill="url(#gc)" transform="translate(0,211.8)" shape-rendering="crispEdges"/>
<rect x="60" y="-60" width="1" height="120" fill="url(#gc)" transform="translate(0,211.87)" shape-rendering="crispEdges"/>
<rect x="61" y="-60" width="1" height="120" fill="url(#gc)" transform="translate(0,211.94)" shape-rendering="crispEdges"/>
<rect x="62" y="-60" width="1" height="120" fill="url(#gc)" transform="translate(0,212)" shape-rendering="crispEdges"/>
<rect x="63" y="-60" width="1" height="120" fill="url(#gc)" transform="translate(0,212.07)" shape-rendering="crispEdges"/>
<rect x="64" y="-60" width="1" height="120" fill="url(#gc)" transform="translate(0,212.14)" shape-rendering="crispEdges"/>
<rect x="65" y="-60" width="1" height="120" fill="url(#gc)" transform="translate(0,212.2)" shape-rendering="crispEdges"/>
<rect x="66" y="-60" width="1" height="120" fill="url(#gc)" transform="translate(0,212.26)" shape-rendering="crispEdges"/>
<rect x="67" y="-60" width="1" height="120" fill="url(#gc)" transform="translate(0,212.33)" shape-rendering="crispEdges"/>
<rect x="68" y="-60" width="1" height="120" fill="url(#gc)" transform="translate(0,212.39)" shape-rendering="crispEdges"/>
<rect x="69" y="-60" width="1" height="120" fill="url(#gc)" transform="translate(0,212.45)" shape-rendering="crispEdges"/>
<rect x="70" y="-60" width="1" height="120" fill="url(#gc)" transform="translate(0,212.5)" shape-rendering="crispEdges"/>
<rect x="71" y="-60" width="1" height="120" fill="url(#gc)" transform="translate(0,212.54)" shape-rendering="crispEdges"/>
<rect x="72" y="-60" width="1" height="120" fill="url(#gc)" transform="translate(0,212.57)" shape-rendering="crispEdges"/>
<rect x="73" y="-60" width="1" height="120" fill="url(#gc)" transform="translate(0,212.6)" shape-rendering="crispEdges"/>
<rect x="74" y="-60" width="1" height="120" fill="url(#gc)" transform="translate(0,212.62)" shape-rendering="crispEdges"/>
<rect x="75" y="-60" width="1" height="120" fill="url(#gc)" transform="translate(0,212.64)" shape-rendering="crispEdges"/>
<rect x="76" y="-60" width="1" height="120" fill="url(#gc)" transform="translate(0,212.64)" shape-rendering="crispEdges"/>
<rect x="77" y="-60" width="1" height="120" fill="url(#gc)" transform="translate(0,212.64)" shape-rendering="crispEdges"/>
<rect x="78" y="-60" width="1" height="120" fill="url(#gc)" transform="translate(0,212.64)" shape-rendering="crispEdges"/>
<rect x="79" y="-60" width="1" height="120" fill="url(#gc)" transform="translate(0,212.62)" shape-rendering="crispEdges"/>
<rect x="80" y="-60" width="1" height="120" fill="url(#gc)" transform="translate(0,212.6)" shape-rendering="crispEdges"/>
<rect x="81" y="-60" width="1" height="120" fill="url(#gc)" transform="translate(0,212.57)" shape-rendering="crispEdges"/>
<rect x="82" y="-60" width="1" height="120" fill="url(#gc)" transform="translate(0,212.54)" shape-rendering="crispEdges"/>
<rect x="83" y="-60" width="1" height="120" fill="url(#gc)" transform="translate(0,212.5)" shape-rendering="crispEdges"/>
<rect x="84" y="-60" width="1" height="120" fill="url(#gc)" transform="translate(0,212.44)" shape-rendering="crispEdges"/>
<rect x="85" y="-60" width="1" height="120" fill="url(#gc)" transform="translate(0,212.38)" shape-rendering="crispEdges"/>
<rect x="86" y="-60" width="1" height="120" fill="url(#gc)" transform="translate(0,212.31)" shape-rendering="crispEdges"/>
<rect x="87" y="-60" width="1" height="120" fill="url(#gc)" transform="translate(0,212.24)" shape-rendering="crispEdges"/>
<rect x="88" y="-60" width="1" height="120" fill="url(#gc)" transform="translate(0,212.17)" shape-rendering="crispEdges"/>
<rect x="89" y="-60" width="1" height="120" fill="url(#gc)" transform="translate(0,212.09)" shape-rendering="crispEdges"/>
<rect x="90" y="-60" width="1" height="120" fill="url(#gc)" transform="translate(0,212)" shape-rendering="crispEdges"/>
<rect x="91" y="-60" width="1" height="120" fill="url(#gc)" transform="translate(0,211.92)" shape-rendering="crispEdges"/>
<rect x="92" y="-60" width="1" height="120" fill="url(#gc)" transform="translate(0,211.83)" shape-rendering="crispEdges"/>
<rect x="93" y="-60" width="1" height="120" fill="url(#gc)" transform="translate(0,211.73)" shape-rendering="crispEdges"/>
<rect x="94" y="-60" width="1" height="120" fill="url(#gc)" transform="translate(0,211.64)" shape-rendering="crispEdges"/>
<rect x="95" y="-60" width="1" height="120" fill="url(#gc)" transform="translate(0,211.54)" shape-rendering="crispEdges"/>
<rect x="96" y="-60" width="1" height="120" fill="url(#gc)" transform="translate(0,211.43)" shape-rendering="crispEdges"/>
<rect x="97" y="-60" width="1" height="120" fill="url(#gc)" transform="translate(0,211.32)" shape-rendering="crispEdges"/>
<rect x="98" y="-60" width="1" height="120" fill="url(#gc)" transform="translate(0,211.21)" shape-rendering="crispEdges"/>
<rect x="99" y="-60" width="1" height="120" fill="url(#gc)" transform="translate(0,211.1)" shape-rendering="crispEdges"/>
<rect x="100" y="-60" width="1" height="120" fill="url(#gc)" transform="translate(0,210.99)" shape-rendering="crispEdges"/>
<rect x="101" y="-60" width="1" height="120" fill="url(#gc)" transform="translate(0,210.87)" shape-rendering="crispEdges"/>
<rect x="102" y="-60" width="1" height="120" fill="url(#gc)" transform="translate(0,210.76)" shape-rendering="crispEdges"/>
<rect x="103" y="-60" width="1" height="120" fill="url(#gc)" transform="translate(0,210.65)" shape-rendering="crispEdges"/>
<rect x="104" y="-60" width="1" height="120" fill="url(#gc)" transform="translate(0,210.55)" shape-rendering="crispEdges"/>
<rect x="105" y="-60" width="1" height="120" fill="url(#gc)" transform="translate(0,210.45)" shape-rendering="crispEdges"/>
<rect x="106" y="-60" width="1" height="120" fill="url(#gc)" transform="translate(0,210.35)" shape-rendering="crispEdges"/>
<rect x="107" y="-60" width="1" height="120" fill="url(#gc)" transform="translate(0,210.25)" shape-rendering="crispEdges"/>
<rect x="108" y="-60" width="1" height="120" fill="url(#gc)" transform="translate(0,210.16)" shape-rendering="crispEdges"/>
<rect x="109" y="-60" width="1" height="120" fill="url(#gc)" transform="translate(0,210.06)" shape-rendering="crispEdges"/>
<rect x="110" y="-60" width="1" height="120" fill="url(#gc)" transform="translate(0,209.98)" shape-rendering="crispEdges"/>
<rect x="111" y="-60" width="1" height="120" fill="url(#gc)" transform="translate(0,209.89)" shape-rendering="crispEdges"/>
<rect x="112" y="-60" width="1" height="120" fill="url(#gc)" transform="translate(0,209.81)" shape-rendering="crispEdges"/>
<rect x="113" y="-60" width="1" height="120" fill="url(#gc)" transform="translate(0,209.73)" shape-rendering="crispEdges"/>
<rect x="114" y="-60" width="1" height="120" fill="url(#gc)" transform="translate(0,209.65)" shape-rendering="crispEdges"/>
<rect x="115" y="-60" width="1" height="120" fill="url(#gc)" transform="translate(0,209.57)" shape-rendering="crispEdges"/>
<rect x="116" y="-60" width="1" height="120" fill="url(#gc)" transform="translate(0,209.5)" shape-rendering="crispEdges"/>
<rect x="117" y="-60" width="1" height="120" fill="url(#gc)" transform="translate(0,209.43)" shape-rendering="crispEdges"/>
<rect x="118" y="-60" width="1" height="120" fill="url(#gc)" transform="translate(0,209.35)" shape-rendering="crispEdges"/>
<rect x="119" y="-60" width="1" height="120" fill="url(#gc)" transform="translate(0,209.28)" shape-rendering="crispEdges"/>
<rect x="120" y="-60" width="1" height="120" fill="url(#gc)" transform="translate(0,209.2)" shape-rendering="crispEdges"/>
<rect x="121" y="-60" width="1" height="120" fill="url(#gc)" transform="translate(0,209.13)" shape-rendering="crispEdges"/>
<rect x="122" y="-60" width="1" height="120" fill="url(#gc)" transform="translate(0,209.06)" shape-rendering="crispEdges"/>
<rect x="123" y="-60" width="1" height="120" fill="url(#gc)" transform="translate(0,208.98)" shape-rendering="crispEdges"/>
<rect x="124" y="-60" width="1" height="120" fill="url(#gc)" transform="translate(0,208.91)" shape-rendering="crispEdges"/>
<rect x="125" y="-60" width="1" height="120" fill="url(#gc)" transform="translate(0,208.83)" shape-rendering="crispEdges"/>
<rect x="126" y="-60" width="1" height="120" fill="url(#gc)" transform="translate(0,208.76)" shape-rendering="crispEdges"/>
<rect x="127" y="-60" width="1" height="120" fill="url(#gc)" transform="translate(0,208.68)" shape-rendering="crispEdges"/>
<rect x="128" y="-60" width="1" height="120" fill="url(#gc)" transform="translate(0,208.61)" shape-rendering="crispEdges"/>
<rect x="129" y="-60" width="1" height="120" fill="url(#gc)" transform="translate(0,208.53)" shape-rendering="crispEdges"/>
<rect x="130" y="-60" width="1" height="120" fill="url(#gc)" transform="translate(0,208.46)" shape-rendering="crispEdges"/>
<rect x="131" y="-60" width="1" height="120" fill="url(#gc)" transform="translate(0,208.38)" shape-rendering="crispEdges"/>
<rect x="132" y="-60" width="1" height="120" fill="url(#gc)" transform="translate(0,208.31)" shape-rendering="crispEdges"/>
<rect x="133" y="-60" width="1" height="120" fill="url(#gc)" transform="translate(0,208.24)" shape-rendering="crispEdges"/>
<rect x="134" y="-60" width="1" height="120" fill="url(#gc)" transform="translate(0,208.17)" shape-rendering="crispEdges"/>
<rect x="135" y="-60" width="1" height="120" fill="url(#gc)" transform="translate(0,208.11)" shape-rendering="crispEdges"/>
<rect x="136" y="-60" width="1" height="120" fill="url(#gc)" transform="translate(0,208.04)" shape-rendering="crispEdges"/>
<rect x="137" y="-60" width="1" height="120" fill="url(#gc)" transform="translate(0,207.98)" shape-rendering="crispEdges"/>
<rect x="138" y="-60" width="1" height="120" fill="url(#gc)" transform="translate(0,207.92)" shape-rendering="crispEdges"/>
<rect x="139" y="-60" width="1" height="120" fill="url(#gc)" transform="translate(0,207.87)" shape-rendering="crispEdges"/>
</g>
</g>
<path d="M31.5 231.35h1.4M139.2 231.35h-1.4" stroke="#222" stroke-width="0.8"/>
<path d="M31.5 206.9h1.4M139.2 206.9h-1.4" stroke="#222" stroke-width="0.8"/>
<path d="M31.5 182.45h1.4M139.2 182.45h-1.4" stroke="#222" stroke-width="0.8"/>
<path d="M85.35 256v-1.4M85.35 158.2v1.4" stroke="#222" stroke-width="0.8"/>
<rect x="31.5" y="158.2" width="107.7" height="97.8" fill="none" stroke="#333" stroke-width="0.6"/>
<rect x="148.5" y="158.3" width="7.3" height="97.8" fill="url(#gcb)" stroke="#8a8a8a" stroke-width="0.8"/>
<path d="M155.8 256.1h-1.3" stroke="#333" stroke-width="0.8"/>
<path d="M155.8 223.5h-1.3" stroke="#333" stroke-width="0.8"/>
<path d="M155.8 190.9h-1.3" stroke="#333" stroke-width="0.8"/>
<path d="M155.8 158.3h-1.3" stroke="#333" stroke-width="0.8"/>
<text x="158" y="261" text-anchor="start" font-size="11">0</text>
<text x="158" y="228.4" text-anchor="start" font-size="11">0.5</text>
<text x="158" y="195.8" text-anchor="start" font-size="11">1</text>
<text x="158" y="163.2" text-anchor="start" font-size="11">1.5</text>
<text x="29" y="163.1" text-anchor="end" font-size="11">0.2</text>
<text x="29" y="187.65" text-anchor="end" font-size="11">0.1</text>
<text x="29" y="211.3" text-anchor="end" font-size="11">0</text>
<text x="29" y="236.15" text-anchor="end" font-size="11">-0.1</text>
<text x="29" y="258.7" text-anchor="end" font-size="11">-0.2</text>
<text x="31.8" y="269.8" text-anchor="middle" font-size="11">180</text>
<text x="85.3" y="269.8" text-anchor="middle" font-size="11">185</text>
<text x="139.6" y="269.8" text-anchor="middle" font-size="11">190</text>
<text x="-0.3" y="151" text-anchor="start" font-size="14.5">(c)</text>
<text x="72.7" y="279.6" font-size="11" textLength="30.9" lengthAdjust="spacingAndGlyphs"><tspan>x(μm)</tspan></text>
<text transform="translate(8.9,217.5) rotate(-90)" font-size="11" textLength="23.1" lengthAdjust="spacingAndGlyphs"><tspan>v</tspan><tspan font-size="6.5" dy="3.4">x</tspan><tspan dy="-3.4">(c)</tspan></text>
<g clip-path="url(#clipd)">
<g filter="url(#pnd)">
<rect x="208.4" y="158.2" width="107.7" height="97.8" fill="url(#gd)"/>
<path d="M205 177.5 L210 179 L214 179.5 L220 178 L225 175.5 L228 173.3 L229.5 174.3 L231 178 L234 179.3 L245 179.3 L250 178 L255 175.3 L259 172.3 L260.5 172.6 L262 176 L264 179 L270 179.3 L274 176.5 L278 172.4 L279.5 172.7 L281 176.5 L283 179 L290 179.3 L295 177 L299 173.5 L300.5 173.8 L302 176.5 L305 178.5 L312 179 L318 179 L318 184.6 L300 185 L280 184.4 L260 184.8 L240 184.4 L220 184.9 L205 184.4Z" fill="#874b00"/>
<polyline points="217.3,172 217.66,171.82 217.85,171.65 217.93,171.46 217.93,171.27 217.85,171.09 217.68,170.93 217.45,170.79 217.14,170.69 216.79,170.63 216.39,170.62 215.96,170.67 215.52,170.77 215.08,170.93 214.67,171.15 214.3,171.42 213.99,171.74 213.74,172.1 213.59,172.49 213.53,172.89 213.57,173.31 213.73,173.72 214,174.11 214.39,174.47 214.88,174.78 215.47,175.04 216.15,175.23 216.9,175.34 217.7,175.36 218.53,175.3 219.38,175.15 220.22,174.9 221.02,174.57 221.76,174.15 222.41,173.65 222.96,173.09 223.39,172.48 223.67,171.82 223.8,171.15 223.77,170.47 223.57,169.8 223.19,169.16 222.65,168.58 221.96,168.06 221.11,167.62 220.15,167.28 219.07,167.05 217.91,166.94 216.7,166.96 215.47,167.11 214.25,167.38 213.06,167.78 211.95,168.3 210.94,168.93 210.07,169.66 209.35,170.47 208.82,171.34 208.49,172.25 208.37,173.17 208.47,174.09 208.81,174.98" fill="none" stroke="#453500" stroke-width="1.4" opacity="0.65"/>
<polyline points="243,171 243.32,170.78 243.47,170.58 243.52,170.38 243.49,170.18 243.39,169.99 243.21,169.84 242.96,169.71 242.66,169.64 242.32,169.61 241.94,169.64 241.54,169.74 241.14,169.89 240.75,170.1 240.39,170.37 240.08,170.7 239.83,171.06 239.65,171.46 239.56,171.88 239.56,172.32 239.67,172.75 239.88,173.16 240.19,173.54 240.6,173.88 241.11,174.16 241.71,174.37 242.37,174.5 243.1,174.54 243.86,174.49 244.64,174.34 245.42,174.09 246.18,173.75 246.88,173.32 247.52,172.8 248.07,172.22 248.51,171.57 248.82,170.89 249,170.17 249.02,169.45 248.89,168.74 248.61,168.06 248.16,167.43 247.57,166.87 246.83,166.4 245.97,166.03 245.01,165.77 243.96,165.64 242.85,165.64 241.71,165.78 240.56,166.05 239.45,166.47 238.39,167.01 237.41,167.66 236.55,168.43 235.83,169.28 235.27,170.19 234.89,171.16 234.71,172.14 234.73,173.13 234.96,174.08 235.4,174.98" fill="none" stroke="#453500" stroke-width="1.4" opacity="0.65"/>
<polyline points="269,171 269.37,170.79 269.55,170.59 269.63,170.37 269.62,170.15 269.52,169.94 269.34,169.75 269.08,169.6 268.76,169.48 268.39,169.42 267.97,169.42 267.53,169.48 267.08,169.61 266.63,169.81 266.22,170.07 265.84,170.39 265.53,170.77 265.3,171.18 265.16,171.64 265.12,172.11 265.19,172.59 265.38,173.06 265.69,173.5 266.11,173.91 266.64,174.26 267.27,174.55 267.98,174.75 268.77,174.87 269.61,174.88 270.47,174.8 271.35,174.6 272.2,174.3 273.02,173.9 273.76,173.4 274.42,172.81 274.96,172.15 275.37,171.43 275.63,170.67 275.72,169.89 275.65,169.1 275.4,168.33 274.98,167.6 274.38,166.93 273.62,166.35 272.72,165.86 271.69,165.49 270.56,165.24 269.35,165.14 268.09,165.18 266.82,165.38 265.56,165.72 264.35,166.21 263.22,166.83 262.21,167.58 261.34,168.44 260.64,169.39 260.13,170.4 259.84,171.46 259.77,172.53 259.93,173.59 260.33,174.62" fill="none" stroke="#453500" stroke-width="1.4" opacity="0.65"/>
<polyline points="290.5,170.8 290.82,170.61 290.98,170.43 291.05,170.24 291.04,170.04 290.95,169.85 290.79,169.68 290.57,169.54 290.29,169.44 289.96,169.38 289.59,169.38 289.2,169.44 288.81,169.55 288.42,169.72 288.06,169.96 287.73,170.24 287.46,170.58 287.26,170.95 287.14,171.36 287.11,171.78 287.17,172.21 287.34,172.63 287.61,173.03 287.98,173.4 288.44,173.71 289,173.97 289.62,174.16 290.31,174.26 291.05,174.28 291.8,174.21 292.57,174.03 293.32,173.77 294.03,173.41 294.68,172.96 295.25,172.44 295.72,171.85 296.08,171.21 296.3,170.53 296.38,169.83 296.32,169.12 296.09,168.43 295.72,167.78 295.2,167.18 294.53,166.65 293.74,166.21 292.84,165.87 291.85,165.65 290.78,165.55 289.68,165.58 288.57,165.75 287.46,166.06 286.41,166.49 285.42,167.04 284.54,167.71 283.78,168.48 283.17,169.32 282.73,170.23 282.48,171.18 282.42,172.14 282.57,173.09 282.92,174.01" fill="none" stroke="#453500" stroke-width="1.4" opacity="0.65"/>
<polyline points="308.5,171 308.8,170.82 308.94,170.65 309.01,170.46 308.99,170.27 308.91,170.09 308.77,169.93 308.56,169.79 308.29,169.69 307.99,169.64 307.65,169.63 307.29,169.68 306.92,169.79 306.56,169.95 306.23,170.18 305.93,170.45 305.68,170.77 305.49,171.13 305.38,171.52 305.35,171.92 305.42,172.33 305.57,172.74 305.82,173.13 306.17,173.48 306.6,173.79 307.12,174.04 307.7,174.22 308.34,174.33 309.03,174.35 309.73,174.28 310.44,174.12 311.14,173.87 311.79,173.53 312.4,173.1 312.92,172.6 313.36,172.04 313.69,171.42 313.89,170.77 313.96,170.1 313.9,169.42 313.69,168.76 313.34,168.13 312.84,167.55 312.22,167.04 311.49,166.61 310.65,166.28 309.72,166.06 308.74,165.96 307.71,165.99 306.67,166.14 305.65,166.43 304.67,166.84 303.76,167.36 302.94,168 302.24,168.73 301.68,169.54 301.28,170.41 301.05,171.32 301,172.24 301.14,173.15 301.47,174.04" fill="none" stroke="#453500" stroke-width="1.4" opacity="0.65"/>
</g>
</g>
<path d="M208.4 231.35h1.4M316.1 231.35h-1.4" stroke="#222" stroke-width="0.8"/>
<path d="M208.4 206.9h1.4M316.1 206.9h-1.4" stroke="#222" stroke-width="0.8"/>
<path d="M208.4 182.45h1.4M316.1 182.45h-1.4" stroke="#222" stroke-width="0.8"/>
<path d="M262.25 256v-1.4M262.25 158.2v1.4" stroke="#222" stroke-width="0.8"/>
<rect x="208.4" y="158.2" width="107.7" height="97.8" fill="none" stroke="#333" stroke-width="0.6"/>
<rect x="325.4" y="158.3" width="7.3" height="97.8" fill="url(#gcb)" stroke="#8a8a8a" stroke-width="0.8"/>
<path d="M332.7 256.1h-1.3" stroke="#333" stroke-width="0.8"/>
<path d="M332.7 223.5h-1.3" stroke="#333" stroke-width="0.8"/>
<path d="M332.7 190.9h-1.3" stroke="#333" stroke-width="0.8"/>
<path d="M332.7 158.3h-1.3" stroke="#333" stroke-width="0.8"/>
<text x="334.3" y="261" text-anchor="start" font-size="11">0</text>
<text x="334.3" y="228.4" text-anchor="start" font-size="11">0.5</text>
<text x="334.3" y="195.8" text-anchor="start" font-size="11">1</text>
<text x="334.3" y="163.2" text-anchor="start" font-size="11">1.5</text>
<text x="206.9" y="163.1" text-anchor="end" font-size="11">0.2</text>
<text x="206.9" y="187.65" text-anchor="end" font-size="11">0.1</text>
<text x="206.9" y="211.3" text-anchor="end" font-size="11">0</text>
<text x="206.9" y="236.15" text-anchor="end" font-size="11">-0.1</text>
<text x="206.9" y="258.7" text-anchor="end" font-size="11">-0.2</text>
<text x="208.7" y="269.8" text-anchor="middle" font-size="11">180</text>
<text x="262.2" y="269.8" text-anchor="middle" font-size="11">185</text>
<text x="316.5" y="269.8" text-anchor="middle" font-size="11">190</text>
<text x="178" y="150.4" text-anchor="start" font-size="14.5">(d)</text>
<text x="249.6" y="279.6" font-size="11" textLength="30.9" lengthAdjust="spacingAndGlyphs"><tspan>x(μm)</tspan></text>
<text transform="translate(187,217.5) rotate(-90)" font-size="11" textLength="22.8" lengthAdjust="spacingAndGlyphs"><tspan>v</tspan><tspan font-size="6.5" dy="3.4">x</tspan><tspan dy="-3.4">(c)</tspan></text>
<g clip-path="url(#clipe)">
<polyline points="51.1,353.09 51.35,355.02 51.6,356.87 51.85,358.57 52.1,360.05 52.35,361.27 52.6,362.17 52.85,362.72 53.1,362.91 53.35,362.73 53.6,362.17 53.85,361.27 54.1,360.06 54.35,358.58 54.6,356.88 54.85,355.03 55.1,353.09 55.35,351.14 55.6,349.24 55.85,347.47 56.1,345.9 56.35,344.57 56.6,343.53 56.85,342.83 57.1,342.5 57.35,342.53 57.6,342.94 57.85,343.71 58.1,344.8 58.35,346.19 58.6,347.81 58.85,349.61 59.1,351.53 59.35,353.48 59.6,355.41 59.85,357.25 60.1,358.91 60.35,360.35 60.6,361.51 60.85,362.35 61.1,362.83 61.35,362.95 61.6,362.69 61.85,362.06 62.1,361.09 62.35,359.81 62.6,358.28 62.85,356.54 63.1,354.65 63.35,352.7 63.6,350.75 63.85,348.86 64.1,347.12 64.35,345.58 64.6,344.3 64.85,343.33 65.1,342.7 65.35,342.43 65.6,342.54 65.85,343.03 66.1,343.86 66.35,345.02 66.6,346.47 66.85,348.14 67.1,349.97 67.35,351.91 67.6,353.88 67.85,355.8 68.1,357.62 68.35,359.25 68.6,360.64 68.85,361.74 69.1,362.52 69.35,362.93 69.6,362.97 69.85,362.63 70.1,361.93 70.35,360.89 70.6,359.55 70.85,357.97 71.1,356.18 71.35,354.27 71.6,352.31 71.85,350.35 72.1,348.48 72.35,346.77 72.6,345.27 72.85,344.04 73.1,343.13 73.35,342.57 73.6,342.38 73.85,342.57 74.1,343.15 74.35,344.08 74.6,345.33 74.85,346.86 75.1,348.61 75.35,350.51 75.6,352.5 75.85,354.49 76.1,356.42 76.35,358.21 76.6,359.79 76.85,361.11 77.1,362.11 77.35,362.76 77.6,363.03 77.85,362.92 78.1,362.42 78.35,361.56 78.6,360.36 78.85,358.88 79.1,357.16 79.35,355.28 79.6,353.3 79.85,351.3 80.1,349.35 80.35,347.52 80.6,345.89 80.85,344.51 81.1,343.44 81.35,342.72 81.6,342.37 81.85,342.41 82.1,342.84 82.35,343.66 82.6,344.82 82.85,346.28 83.1,347.99 83.35,349.89 83.6,351.89 83.85,353.92 84.1,355.91 84.35,357.77 84.6,359.44 84.85,360.85 85.1,361.95 85.35,362.69 85.6,363.05 85.85,363.01 86.1,362.58 86.35,361.76 86.6,360.6 86.85,359.13 87.1,357.42 87.35,355.52 87.6,353.52 87.85,351.48 88.1,349.49 88.35,347.62 88.6,345.95 88.85,344.53 89.1,343.46 89.35,342.78 89.6,342.49 89.85,342.94 90.1,345.39 90.35,349.42 90.6,354.12 90.85,358.45 91.1,361.45 91.35,362.47 91.6,361.33 91.85,358.29 92.1,354.07 92.35,349.56 92.6,345.74 92.85,343.47 93.1,343.24 93.35,345.01 93.6,348.4 93.85,352.7 94.1,357 94.35,360.41 94.6,362.2 94.85,362 95.1,359.85 95.35,356.2 95.6,351.81 95.85,347.6 96.1,344.45 96.35,343.03 96.6,343.6 96.85,345.98 97.1,349.69 97.35,354.01 97.6,358.07 97.85,361.07 98.1,362.41 98.35,361.84 98.6,359.45 98.85,355.72 99.1,351.39 99.35,347.31 99.6,344.3 99.85,342.94 100.1,343.37 100.35,345.22 100.6,348.22 100.85,351.92 101.1,355.77 101.35,359.17 101.6,361.6 101.85,362.69 102.1,362.26 102.35,360.37 102.6,357.29 102.85,353.5 103.1,349.56 103.35,346.07 103.6,343.58 103.85,342.47 104.1,342.91 104.35,344.85 104.6,348 104.85,351.89 105.1,355.92 105.35,359.48 105.6,362.03 105.85,363.17 106.1,362.72 106.35,360.73 106.6,357.51 106.85,353.53 107.1,349.41 107.35,345.76 107.6,343.16 107.85,341.99 108.1,342.46 108.35,344.49 108.6,347.78 108.85,351.85 109.1,356.07 109.35,359.79 109.6,362.46 109.85,363.65 110.1,363.17 110.35,361.1 110.6,357.73 110.85,353.57 111.1,349.26 111.35,345.45 111.6,342.73 111.85,341.51 112.1,342.09 112.35,344.55 112.6,348.48 112.85,353.18 113.1,357.82 113.35,361.57 113.6,363.76 113.85,364 114.1,362.22 114.35,358.74 114.6,354.17 114.85,349.31 115.1,345.03 115.35,342.09 115.6,341.03 115.85,341.77 116.1,343.96 116.35,347.32 116.6,351.41 116.85,355.69 117.1,359.6 117.35,362.61 117.6,364.33 117.85,364.51 118.1,363.14 118.35,360.38 118.6,356.58 118.85,352.26 119.1,347.97 119.35,344.29 119.6,341.7 119.85,340.55 120.1,341.19 120.35,343.87 120.6,348.14 120.85,353.22 121.1,358.23 121.35,362.27 121.6,364.61 121.85,364.85 122.1,362.93 122.35,359.18 122.6,354.27 122.85,349.07 123.1,344.5 123.35,341.37 123.6,340.25 123.85,340.89 124.1,342.79 124.35,345.75 124.6,349.46 124.85,353.52 125.1,357.51 125.35,360.99 125.6,363.6 125.85,365.07 126.1,365.22 126.35,364.04 126.6,361.65 126.85,358.31 127.1,354.36 127.35,350.22 127.6,346.33 127.85,343.11 128.1,340.9 128.35,339.94 128.6,340.33 128.85,342.04 129.1,344.89 129.35,348.57 129.6,352.7 129.85,356.84 130.1,360.56 130.35,363.45 130.6,365.2 130.85,365.63 131.1,364.69 131.35,362.47 131.6,359.21 131.85,355.24 132.1,351 132.35,346.92 132.6,343.45 132.85,340.95 133.1,339.7 133.35,339.79 133.6,341.11 133.85,343.53 134.1,346.82 134.35,350.67 134.6,354.73 134.85,358.6 135.1,361.93 135.35,364.39 135.6,365.77 135.85,365.91 136.1,364.81 136.35,362.56 136.6,359.38 136.85,355.56 137.1,351.46 137.35,347.47 137.6,343.96 137.85,341.27 138.1,339.64 138.35,339.24 138.6,340.11 138.85,342.17 139.1,345.22 139.35,348.99 139.6,353.12 139.85,357.22 140.1,360.9 140.35,363.81 140.6,365.69 140.85,366.34 141.1,365.71 141.35,363.85 141.6,360.94 141.85,357.25 142.1,353.12 142.35,348.95 142.6,345.12 142.85,342 143.1,339.89 143.35,338.98 143.6,339.3 143.85,340.71 144.1,343.09 144.35,346.26 144.6,349.96 144.85,353.88 145.1,357.72 145.35,361.15 145.6,363.91 145.85,365.76 146.1,366.55 146.35,366.22 146.6,364.8 146.85,362.39 147.1,359.2 147.35,355.47 147.6,351.51 147.85,347.64 148.1,344.17 148.35,341.39 148.6,339.53 148.85,338.72 149.1,339.05 149.35,340.49 149.6,342.92 149.85,346.15 150.1,349.91 150.35,353.9 150.6,357.81 150.85,361.3 151.1,364.11 151.35,365.99 151.6,366.8 151.85,366.47 152.1,365.02 152.35,362.57 152.6,359.31 152.85,355.52 153.1,351.49 153.35,347.55 153.6,344.02 153.85,341.19 154.1,339.29 154.35,338.48 154.6,338.73 154.85,339.89 155.1,341.87 155.35,344.54 155.6,347.73 155.85,351.25 156.1,354.87 156.35,358.35 156.6,361.48 156.85,364.05 157.1,365.9 157.35,366.91 157.6,367.02 157.85,366.21 158.1,364.53 158.35,362.1 158.6,359.06 158.85,355.61 159.1,351.97 159.35,348.37 159.6,345.04 159.85,342.2 160.1,340.01 160.35,338.62 160.6,338.12 160.85,338.51 161.1,339.73 161.35,341.71 161.6,344.34 161.85,347.47 162.1,350.92 162.35,354.49 162.6,357.96 162.85,361.15 163.1,363.86 163.35,365.93 163.6,367.24 163.85,367.71 164.1,367.31 164.35,366.05 164.6,364.01 164.85,361.3 165.1,358.08 165.35,354.53 165.6,350.86 165.85,347.28 166.1,344 166.35,341.21 166.6,339.08 166.85,337.73 167.1,337.25 167.35,337.6 167.6,338.68 167.85,340.45 168.1,342.83 168.35,345.7 168.6,348.93 168.85,352.35 169.1,355.81 169.35,359.13 169.6,362.14 169.85,364.71 170.1,366.71 170.35,368.02 170.6,368.6 170.85,368.4 171.1,367.43 171.35,365.74 171.6,363.4 171.85,360.53 172.1,357.27 172.35,353.77 172.6,350.2 172.85,346.74 173.1,343.56 173.35,340.81 173.6,338.63 173.85,337.13 174.1,336.38 174.35,336.44 174.6,337.3 174.85,338.95 175.1,341.29 175.35,344.22 175.6,347.59 175.85,351.22 176.1,354.93 176.35,358.53 176.6,361.85 176.85,364.72 177.1,367 177.35,368.56 177.6,369.32 177.85,369.26 178.1,368.36 178.35,366.68 178.6,364.28 178.85,361.31 179.1,357.89 179.35,354.21 179.6,350.44 179.85,346.78 180.1,343.4 180.35,340.49 180.6,338.18 180.85,336.6 181.1,335.82 181.35,335.85 181.6,336.57 181.85,337.92 182.1,339.86 182.35,342.3 182.6,345.17 182.85,348.34 183.1,351.68 183.35,355.07 183.6,358.38 183.85,361.47 184.1,364.22 184.35,366.52 184.6,368.28 184.85,369.43 185.1,369.93 185.35,369.74 185.6,368.88 185.85,367.38 186.1,365.3 186.35,362.72 186.6,359.74 186.85,356.47 187.1,353.05 187.35,349.6 187.6,346.27 187.85,343.19 188.1,340.48 188.35,338.24 188.6,336.57 188.85,335.53 189.1,335.17 189.35,335.41 189.6,336.17 189.85,337.42 190.1,339.12 190.35,341.23 190.6,343.68 190.85,346.42 191.1,349.35 191.35,352.39 191.6,355.46 191.85,358.45 192.1,361.29 192.35,363.88 192.6,366.15 192.85,368.02 193.1,369.45 193.35,370.38 193.6,370.79 193.85,370.67 194.1,370 194.35,368.82 194.6,367.16 194.85,365.06 195.1,362.58 195.35,359.79 195.6,356.79 195.85,353.65 196.1,350.48 196.35,347.35 196.6,344.38 196.85,341.64 197.1,339.22 197.35,337.19 197.6,335.61 197.85,334.54 198.1,334.01 198.35,334.02 198.6,334.5 198.85,335.44 199.1,336.82 199.35,338.61 199.6,340.75 199.85,343.21 200.1,345.92 200.35,348.8 200.6,351.79 200.85,354.81 201.1,357.78 201.35,360.63 201.6,363.28 201.85,365.67 202.1,367.74 202.35,369.43 202.6,370.7 202.85,371.53 203.1,371.88 203.35,371.75 203.6,371.14 203.85,370.07 204.1,368.56 204.35,366.64 204.6,364.38 204.85,361.81 205.1,359.02 205.35,356.06 205.6,353.01 205.85,349.94 206.1,346.95 206.35,344.09 206.6,341.44 206.85,339.08 207.1,337.05 207.35,335.41 207.6,334.2 207.85,333.46 208.1,333.2 208.35,333.4 208.6,334.02 208.85,335.06 209.1,336.48 209.35,338.26 209.6,340.36 209.85,342.73 210.1,345.33 210.35,348.09 210.6,350.95 210.85,353.87 211.1,356.75 211.35,359.56 211.6,362.22 211.85,364.67 212.1,366.87 212.35,368.75 212.6,370.29 212.85,371.45 213.1,372.2 213.35,372.54 213.6,372.44 213.85,371.9 214.1,370.95 214.35,369.59 214.6,367.85 214.85,365.78 215.1,363.41 215.35,360.8 215.6,358.01 215.85,355.08 216.1,352.1 216.35,349.12 216.6,346.21 216.85,343.43 217.1,340.85 217.35,338.52 217.6,336.5 217.85,334.82 218.1,333.53 218.35,332.66 218.6,332.22 218.85,332.22 219.1,332.55 219.35,333.22 219.6,334.2 219.85,335.49 220.1,337.07 220.35,338.9 220.6,340.97 220.85,343.23 221.1,345.66 221.35,348.21 221.6,350.83 221.85,353.5 222.1,356.16 222.35,358.78 222.6,361.3 222.85,363.69 223.1,365.91 223.35,367.92 223.6,369.68 223.85,371.18 224.1,372.38 224.35,373.26 224.6,373.81 224.85,374.02 225.1,373.88 225.35,373.4 225.6,372.58 225.85,371.42 226.1,369.96 226.35,368.22 226.6,366.21 226.85,363.98 227.1,361.55 227.35,358.98 227.6,356.29 227.85,353.53 228.1,350.76 228.35,348 228.6,345.31 228.85,342.74 229.1,340.31 229.35,338.09 229.6,336.09 229.85,334.36 230.1,332.92 230.35,331.8 230.6,331.02 230.85,330.59 231.1,330.51 231.35,330.71 231.6,331.18 231.85,331.92 232.1,332.9 232.35,334.13 232.6,335.59 232.85,337.26 233.1,339.12 233.35,341.15 233.6,343.32 233.85,345.62 234.1,348.01 234.35,350.46 234.6,352.95 234.85,355.44 235.1,357.91 235.35,360.32 235.6,362.65 235.85,364.86 236.1,366.94 236.35,368.85 236.6,370.57 236.85,372.08 237.1,373.36 237.35,374.39 237.6,375.17 237.85,375.68 238.1,375.91 238.35,375.86 238.6,375.53 238.85,374.92 239.1,374.05 239.35,372.91 239.6,371.53 239.85,369.91 240.1,368.09 240.35,366.07 240.6,363.88 240.85,361.55 241.1,359.11 241.35,356.58 241.6,354 241.85,351.4 242.1,348.8 242.35,346.24 242.6,343.76 242.85,341.37 243.1,339.12 243.35,337.02 243.6,335.1 243.85,333.39 244.1,331.91 244.35,330.68 244.6,329.71 244.85,329.01 245.1,328.6 245.35,328.48 245.6,328.59 245.85,328.91 246.1,329.43 246.35,330.16 246.6,331.09 246.85,332.21 247.1,333.5 247.35,334.97 247.6,336.6 247.85,338.36 248.1,340.26 248.35,342.27 248.6,344.38 248.85,346.56 249.1,348.8 249.35,351.09 249.6,353.39 249.85,355.7 250.1,357.98 250.35,360.23 250.6,362.41 250.85,364.52 251.1,366.54 251.35,368.43 251.6,370.2 251.85,371.82 252.1,373.28 252.35,374.57 252.6,375.67 252.85,376.58 253.1,377.29 253.35,377.79 253.6,378.09 253.85,378.16 254.1,378.02 254.35,377.65 254.6,377.07 254.85,376.27 255.1,375.27 255.35,374.07 255.6,372.67 255.85,371.1 256.1,369.36 256.35,367.47 256.6,365.45 256.85,363.31 257.1,361.06 257.35,358.74 257.6,356.35 257.85,353.92 258.1,351.47 258.35,349.03 258.6,346.6 258.85,344.22 259.1,341.9 259.35,339.67 259.6,337.54 259.85,335.53 260.1,333.66 260.35,331.95 260.6,330.42 260.85,329.07 261.1,327.92 261.35,326.98 261.6,326.26 261.85,325.76 262.1,325.51 262.35,325.49 262.6,325.61 262.85,325.87 263.1,326.25 263.35,326.76 263.6,327.4 263.85,328.16 264.1,329.04 264.35,330.04 264.6,331.15 264.85,332.36 265.1,333.68 265.35,335.08 265.6,336.58 265.85,338.16 266.1,339.81 266.35,341.52 266.6,343.29 266.85,345.11 267.1,346.97 267.35,348.86 267.6,350.78 267.85,352.7 268.1,354.63 268.35,356.55 268.6,358.46 268.85,360.34 269.1,362.19 269.35,363.99 269.6,365.74 269.85,367.44 270.1,369.06 270.35,370.61 270.6,372.07 270.85,373.45 271.1,374.72 271.35,375.89 271.6,376.95 271.85,377.9 272.1,378.72 272.35,379.42 272.6,379.99 272.85,380.44 273.1,380.74 273.35,380.92 273.6,380.96 273.85,380.9 274.1,380.74 274.35,380.48 274.6,380.13 274.85,379.69 275.1,379.17 275.35,378.56 275.6,377.87 275.85,377.1 276.1,376.25 276.35,375.33 276.6,374.33 276.85,373.27 277.1,372.14 277.35,370.95 277.6,369.69 277.85,368.39 278.1,367.03 278.35,365.63 278.6,364.19 278.85,362.71 279.1,361.2 279.35,359.66 279.6,358.1 279.85,356.53 280.1,354.94 280.35,353.34 280.6,351.74 280.85,350.15 281.1,348.56 281.35,346.98 281.6,345.43 281.85,343.89 282.1,342.39 282.35,340.92 282.6,339.48 282.85,338.09 283.1,336.75 283.35,335.45 283.6,334.21 283.85,333.03 284.1,331.91 284.35,330.86 284.6,329.88 284.85,328.97 285.1,328.14 285.35,327.38 285.6,326.71 285.85,326.12 286.1,325.61 286.35,325.19 286.6,324.86 286.85,324.62 287.1,324.47 287.35,324.4 287.6,324.43 287.85,324.56 288.1,324.79 288.35,325.12 288.6,325.55 288.85,326.07 289.1,326.68 289.35,327.39 289.6,328.19 289.85,329.08 290.1,330.04 290.35,331.09 290.6,332.22 290.85,333.42 291.1,334.68 291.35,336.01 291.6,337.4 291.85,338.84 292.1,340.33 292.35,341.87 292.6,343.44 292.85,345.05 293.1,346.68 293.35,348.34 293.6,350.01 293.85,351.69 294.1,353.37 294.35,355.05 294.6,356.73 294.85,358.39 295.1,360.02 295.35,361.64 295.6,363.22 295.85,364.76 296.1,366.26 296.35,367.72 296.6,369.12 296.85,370.46 297.1,371.74 297.35,372.95 297.6,374.09 297.85,375.15 298.1,376.14 298.35,377.04 298.6,377.85 298.85,378.58 299.1,379.22 299.35,379.76 299.6,380.2 299.85,380.55 300.1,380.8 300.35,380.95 300.6,381 300.85,380.95 301.1,380.82 301.35,380.59 301.6,380.28 301.85,379.88 302.1,379.39 302.35,378.82 302.6,378.16 302.85,377.42 303.1,376.6 303.35,375.71 303.6,374.74 303.85,373.7 304.1,372.6 304.35,371.43 304.6,370.2 304.85,368.92 305.1,367.58 305.35,366.2 305.6,364.77 305.85,363.31 306.1,361.81 306.35,360.28 306.6,358.73 306.85,357.16 307.1,355.57 307.35,353.98 307.6,352.38 307.85,350.78 308.1,349.19 308.35,347.61 308.6,346.05 308.85,344.5 309.1,342.99 309.35,341.5 309.6,340.05 309.85,338.64 310.1,337.28 310.35,335.96 310.6,334.7 310.85,333.5 311.1,332.35 311.35,331.27 311.6,330.26 311.85,329.33 312.1,328.46 312.35,327.68 312.6,326.97 312.85,326.35 313.1,325.8 313.35,325.35 313.6,324.98 313.85,324.7 314.1,324.52 314.35,324.42 314.6,324.41 314.85,324.5 315.1,324.69 315.35,324.97 315.6,325.36 315.85,325.84 316.1,326.41 316.35,327.08 316.6,327.84 316.85,328.68 317.1,329.61 317.35,330.62 317.6,331.71 317.85,332.87 318.1,334.1 318.35,335.39 318.6,336.75 318.85,338.16 319.1,339.63 319.35,341.14 319.6,342.69 319.85,344.27 320.1,345.89 320.35,347.53 320.6,349.19 320.85,350.86 321.1,352.53 321.35,354.21" fill="none" stroke="#ff0000" stroke-width="1.7" stroke-linejoin="round"/>
<polyline points="51.1,352.35 51.35,350.63 51.6,348.98 51.85,347.46 52.1,346.14 52.35,345.06 52.6,344.26 52.85,343.77 53.1,343.6 53.35,343.77 53.6,344.26 53.85,345.06 54.1,346.14 54.35,347.46 54.6,348.98 54.85,350.63 55.1,352.35 55.35,354.09 55.6,355.78 55.85,357.35 56.1,358.75 56.35,359.94 56.6,360.86 56.85,361.47 57.1,361.77 57.35,361.74 57.6,361.38 57.85,360.69 58.1,359.72 58.35,358.49 58.6,357.05 58.85,355.45 59.1,353.74 59.35,352 59.6,350.29 59.85,348.66 60.1,347.18 60.35,345.91 60.6,344.88 60.85,344.14 61.1,343.71 61.35,343.61 61.6,343.84 61.85,344.4 62.1,345.26 62.35,346.39 62.6,347.75 62.85,349.3 63.1,350.97 63.35,352.7 63.6,354.43 63.85,356.1 64.1,357.65 64.35,359.01 64.6,360.14 64.85,361 65.1,361.56 65.35,361.79 65.6,361.69 65.85,361.26 66.1,360.52 66.35,359.49 66.6,358.22 66.85,356.74 67.1,355.11 67.35,353.4 67.6,351.66 67.85,349.95 68.1,348.35 68.35,346.91 68.6,345.68 68.85,344.71 69.1,344.02 69.35,343.66 69.6,343.63 69.85,343.93 70.1,344.54 70.35,345.46 70.6,346.65 70.85,348.05 71.1,349.62 71.35,351.31 71.6,353.05 71.85,354.77 72.1,356.42 72.35,357.94 72.6,359.26 72.85,360.34 73.1,361.14 73.35,361.63 73.6,361.8 73.85,361.63 74.1,361.14 74.35,360.34 74.6,359.26 74.85,357.94 75.1,356.42 75.35,354.77 75.6,353.05 75.85,351.31 76.1,349.62 76.35,348.05 76.6,346.65 76.85,345.46 77.1,344.54 77.35,343.93 77.6,343.63 77.85,343.66 78.1,344.02 78.35,344.71 78.6,345.68 78.85,346.91 79.1,348.35 79.35,349.95 79.6,351.66 79.85,353.4 80.1,355.11 80.35,356.74 80.6,358.22 80.85,359.49 81.1,360.52 81.35,361.26 81.6,361.69 81.85,361.79 82.1,361.56 82.35,361 82.6,360.14 82.85,359.01 83.1,357.65 83.35,356.1 83.6,354.43 83.85,352.7 84.1,350.97 84.35,349.3 84.6,347.75 84.85,346.39 85.1,345.26 85.35,344.4 85.6,343.84 85.85,343.61 86.1,343.71 87,345.5 88,352 89,357.5 89.8,358.5 90.6,355 91,354.04 92.13,349.81 93.32,354.11 94.5,351.03 95.54,354.34 96.63,349.6 97.56,353.51 98.53,350.19 99.61,352.76 100.57,350.64 101.75,353.93 102.69,349.91 103.63,353.71 104.56,351.18 105.73,353.15 106.69,349.83 107.85,353.33 109.05,350.63 110.16,353.3 111.34,350.57 112.54,354.37 113.53,351.18 114.47,353.41 115.39,351.38 116.47,353.31 117.57,351.47 118.56,354.47 119.61,351.62 120.65,354.39 121.56,350.82 122.46,354.53 123.62,352.12 124.76,354.09 125.84,352.16 126.74,353.87 127.94,351.91 129.07,354.88 130.26,351.67 131.26,354.31 132.4,351.93 133.53,354.64 134.69,351.94 135.88,353.57 136.88,351.02 138.06,353.82 139.25,350.97 140.24,353.75 141.18,351.31 142.12,354.88 143.33,350.61 144.24,356.22 145.3,349.68 146.45,355.2 147.82,349.32 149.04,353.7 150.45,350.37 151.7,355.63 152.81,348.68 154.23,354.71 155.59,350.45 156.81,353.5 158.19,349.84 159.42,356.03 160.8,348.1 162.04,354.39 163.37,350.02 164.54,353.81 165.66,350.63 167.1,354.85 168.39,350.51 169.58,353.51 170.75,350.09 172.13,354.21 173.49,349.64 174.82,355.85 176.16,350.03 177.49,355.26 178.73,348.85 180.06,355.41 181.47,349.21 182.75,354.61 184.02,350.42 185.33,356.06 186.7,349.09 188.06,355.69 189.37,348.67 190.74,355.65 192.12,348.08 193.44,357.63 194.86,349.07 196.12,354.85 197.5,347.48 198.74,359.6 200.07,347.99 201.38,356.7 202.87,348.01 204.28,356.09 205.85,347.92 207.4,353.95 208.7,348.48 210.21,354.6 211.75,343.08 213,360.78 214.33,349.77 215.62,355.06 216.93,349.28 218.18,355.72 219.57,347.79 221.06,355.04 222.69,350.18 224.1,355.39 225.51,349.86 227.1,355.96 228.35,348.06 229.63,356.81 231.01,348.27 232.65,361.83 234.07,347.42 235.58,356.46 236.88,348.31 238.35,358.92 240.01,348.24 241.39,363.58 242.63,350.23 244.1,357.62 245.4,347.98 247.02,356.59 248.44,349.5 249.8,359.03 251.2,343.37 252.83,361.84 254.17,345.74 255.62,364.67 256.99,339.78 258.6,344.3 260.4,354 261.9,369.2 263,375.2 264,369.2 265.1,364.9 266.2,347.6 267.3,326 267.9,315.1 269,311.9 270.5,308.6 271.6,313 272.7,328.1 273.8,343.2 274.9,357.3 276,354 277,362.7 278.1,369.2 279.8,366 281.4,375.7 282.8,382.8 284.4,375.7 287.4,364.5 289.8,347.7 292.2,333.4 294.6,323.3 296.2,325 298.2,327.4 300.6,335.8 303,350.1 305.3,364.5 307.7,374.1 310.6,382.5 312.5,376.5 314.9,362.1 317.8,343 320.2,331 321.6,326.2" fill="none" stroke="#0000ff" stroke-width="1.7" stroke-linejoin="round"/>
</g>
<rect x="51.1" y="300.2" width="270.3" height="87.7" fill="none" stroke="#8a8a8a" stroke-width="1"/>
<path d="M51.1 387.78h2.2M321.4 387.78h-2.2" stroke="#5a5a5a" stroke-width="0.8"/>
<path d="M51.1 370.24h2.2M321.4 370.24h-2.2" stroke="#5a5a5a" stroke-width="0.8"/>
<path d="M51.1 352.7h2.2M321.4 352.7h-2.2" stroke="#5a5a5a" stroke-width="0.8"/>
<path d="M51.1 335.16h2.2M321.4 335.16h-2.2" stroke="#5a5a5a" stroke-width="0.8"/>
<path d="M51.1 317.62h2.2M321.4 317.62h-2.2" stroke="#5a5a5a" stroke-width="0.8"/>
<path d="M51.1 300.08h2.2M321.4 300.08h-2.2" stroke="#5a5a5a" stroke-width="0.8"/>
<path d="M51.1 387.9v-2.2M51.1 300.2v2.2" stroke="#5a5a5a" stroke-width="0.8"/>
<path d="M89.71 387.9v-2.2M89.71 300.2v2.2" stroke="#5a5a5a" stroke-width="0.8"/>
<path d="M128.33 387.9v-2.2M128.33 300.2v2.2" stroke="#5a5a5a" stroke-width="0.8"/>
<path d="M166.94 387.9v-2.2M166.94 300.2v2.2" stroke="#5a5a5a" stroke-width="0.8"/>
<path d="M205.56 387.9v-2.2M205.56 300.2v2.2" stroke="#5a5a5a" stroke-width="0.8"/>
<path d="M244.17 387.9v-2.2M244.17 300.2v2.2" stroke="#5a5a5a" stroke-width="0.8"/>
<path d="M282.79 387.9v-2.2M282.79 300.2v2.2" stroke="#5a5a5a" stroke-width="0.8"/>
<path d="M321.4 387.9v-2.2M321.4 300.2v2.2" stroke="#5a5a5a" stroke-width="0.8"/>
<text x="47.6" y="391.68" text-anchor="end" font-size="11">-4</text>
<text x="47.6" y="374.14" text-anchor="end" font-size="11">-2</text>
<text x="47.6" y="356.6" text-anchor="end" font-size="11">0</text>
<text x="47.6" y="339.06" text-anchor="end" font-size="11">2</text>
<text x="47.6" y="321.52" text-anchor="end" font-size="11">4</text>
<text x="47.6" y="303.98" text-anchor="end" font-size="11">6</text>
<text x="50.35" y="402.6" text-anchor="middle" font-size="11">50</text>
<text x="87.7" y="402.6" text-anchor="middle" font-size="11">100</text>
<text x="125.45" y="402.6" text-anchor="middle" font-size="11">150</text>
<text x="164.3" y="402.6" text-anchor="middle" font-size="11">200</text>
<text x="203.4" y="402.6" text-anchor="middle" font-size="11">250</text>
<text x="242.9" y="402.6" text-anchor="middle" font-size="11">300</text>
<text x="281.9" y="402.6" text-anchor="middle" font-size="11">350</text>
<text x="320.7" y="402.6" text-anchor="middle" font-size="11">400</text>
<text x="22" y="294.5" text-anchor="start" font-size="14.5">(e)</text>
<text x="171.5" y="413.4" font-size="11" textLength="30.1" lengthAdjust="spacingAndGlyphs"><tspan>x(μm)</tspan></text>
<text transform="translate(31.4,359.6) rotate(-90)" font-size="11" textLength="30.1" lengthAdjust="spacingAndGlyphs"><tspan>E</tspan><tspan font-size="6.5" dy="3.4">x</tspan><tspan dy="-3.4">(E</tspan><tspan font-size="6.5" dy="4.8">0</tspan><tspan dy="-4.8">)</tspan></text></svg></body></html>
